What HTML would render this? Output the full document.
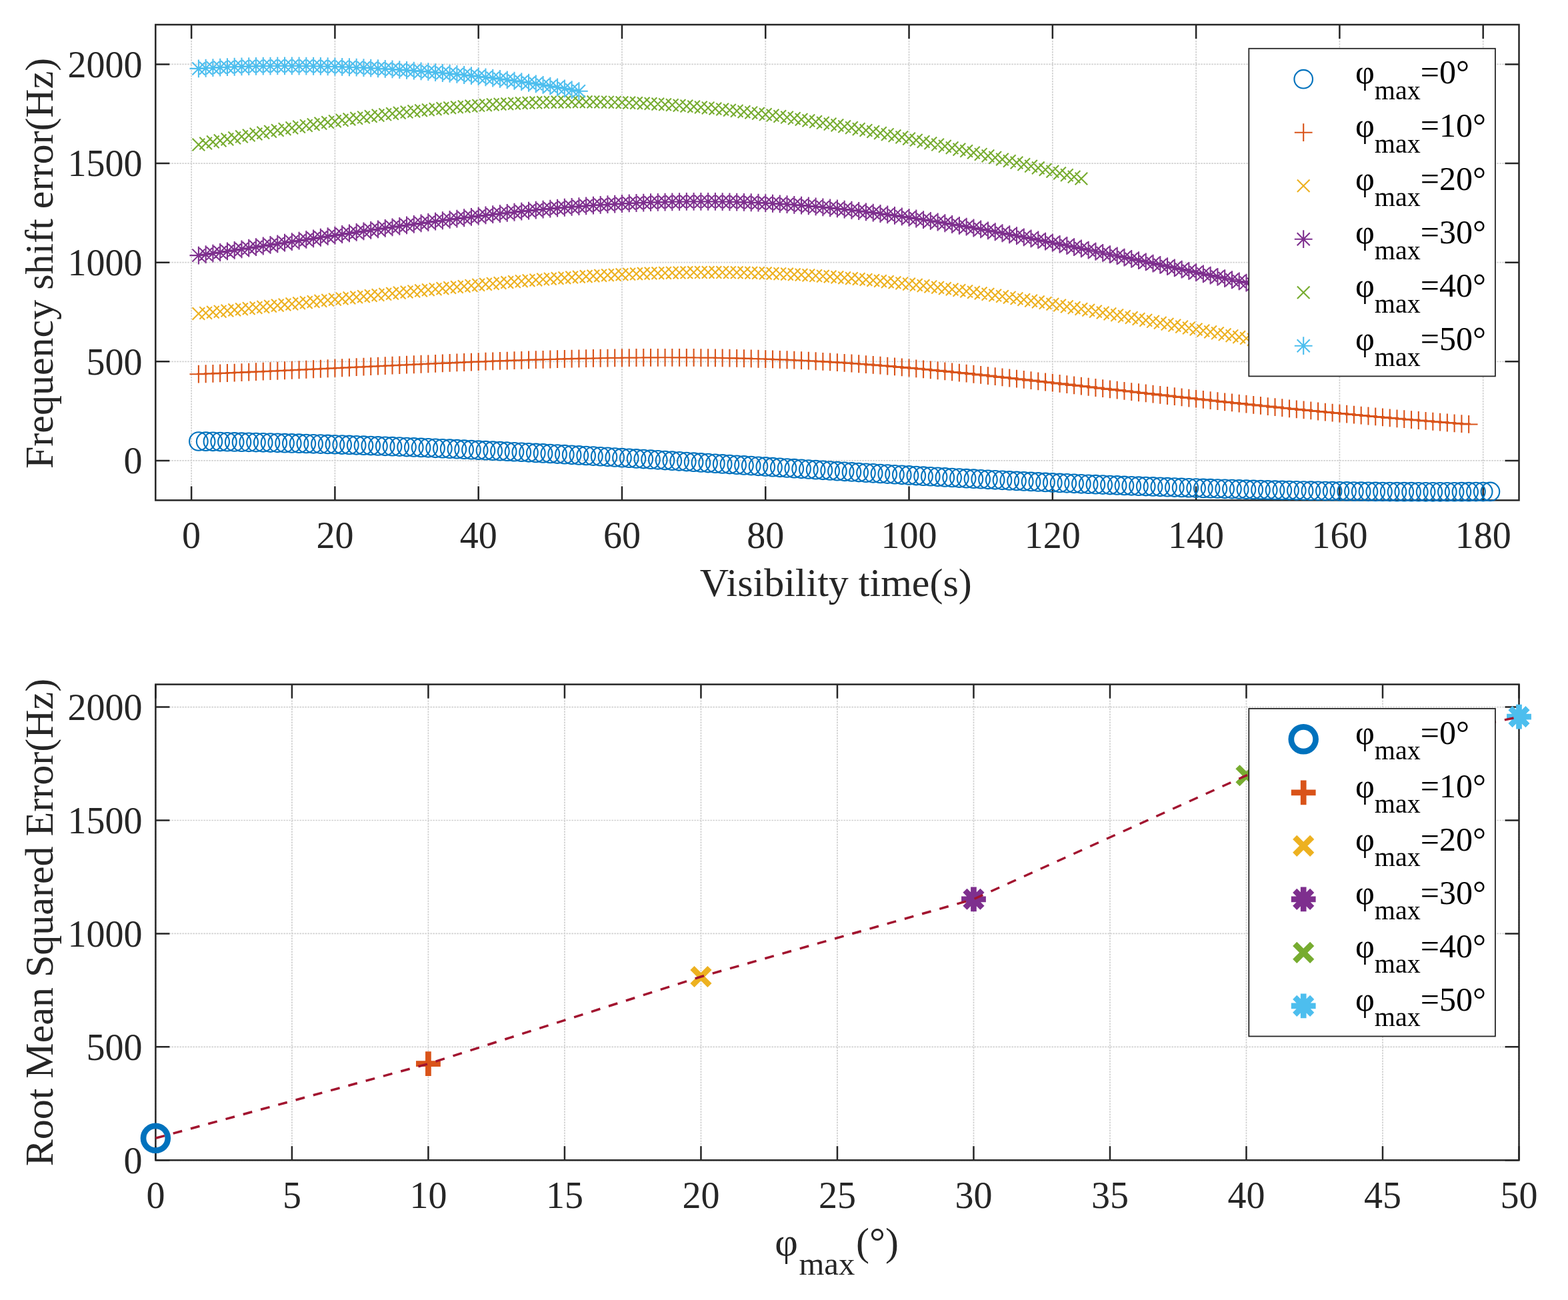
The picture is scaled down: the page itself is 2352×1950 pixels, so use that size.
<!DOCTYPE html><html><head><meta charset="utf-8"><title>Frequency shift error</title><style>html,body{margin:0;padding:0;background:#fff;}svg{display:block;}</style></head><body>
<svg width="2352" height="1950" viewBox="0 0 2352 1950">
<rect width="2352" height="1950" fill="#fff"/>
<path d="M287.12 37V750.4M502.41 37V750.4M717.69 37V750.4M932.97 37V750.4M1148.26 37V750.4M1363.54 37V750.4M1578.83 37V750.4M1794.11 37V750.4M2009.39 37V750.4M2224.68 37V750.4M233.3 690.95H2278.5M233.3 542.33H2278.5M233.3 393.7H2278.5M233.3 245.07H2278.5M233.3 96.45H2278.5" fill="none" stroke="#d0d0d0" stroke-width="1.7" stroke-dasharray="2.5 1.5"/>
<path d="M287.12 750.4v-21M287.12 37v21M502.41 750.4v-21M502.41 37v21M717.69 750.4v-21M717.69 37v21M932.97 750.4v-21M932.97 37v21M1148.26 750.4v-21M1148.26 37v21M1363.54 750.4v-21M1363.54 37v21M1578.83 750.4v-21M1578.83 37v21M1794.11 750.4v-21M1794.11 37v21M2009.39 750.4v-21M2009.39 37v21M2224.68 750.4v-21M2224.68 37v21M233.3 690.95h21M2278.5 690.95h-21M233.3 542.33h21M2278.5 542.33h-21M233.3 393.7h21M2278.5 393.7h-21M233.3 245.07h21M2278.5 245.07h-21M233.3 96.45h21M2278.5 96.45h-21" fill="none" stroke="#262626" stroke-width="2.5"/>
<rect x="233.3" y="37.0" width="2045.2" height="713.4" fill="none" stroke="#262626" stroke-width="2.5"/>
<g fill="none" stroke="#0072BD" stroke-width="2.1"><circle cx="297.89" cy="661.99" r="13.8"/><circle cx="308.65" cy="662.16" r="13.8"/><circle cx="319.41" cy="662.34" r="13.8"/><circle cx="330.18" cy="662.53" r="13.8"/><circle cx="340.94" cy="662.73" r="13.8"/><circle cx="351.71" cy="662.93" r="13.8"/><circle cx="362.47" cy="663.15" r="13.8"/><circle cx="373.23" cy="663.37" r="13.8"/><circle cx="384" cy="663.61" r="13.8"/><circle cx="394.76" cy="663.85" r="13.8"/><circle cx="405.53" cy="664.1" r="13.8"/><circle cx="416.29" cy="664.36" r="13.8"/><circle cx="427.06" cy="664.63" r="13.8"/><circle cx="437.82" cy="664.91" r="13.8"/><circle cx="448.58" cy="665.2" r="13.8"/><circle cx="459.35" cy="665.49" r="13.8"/><circle cx="470.11" cy="665.8" r="13.8"/><circle cx="480.88" cy="666.11" r="13.8"/><circle cx="491.64" cy="666.43" r="13.8"/><circle cx="502.41" cy="666.76" r="13.8"/><circle cx="513.17" cy="667.1" r="13.8"/><circle cx="523.93" cy="667.45" r="13.8"/><circle cx="534.7" cy="667.81" r="13.8"/><circle cx="545.46" cy="668.17" r="13.8"/><circle cx="556.23" cy="668.55" r="13.8"/><circle cx="566.99" cy="668.93" r="13.8"/><circle cx="577.75" cy="669.32" r="13.8"/><circle cx="588.52" cy="669.71" r="13.8"/><circle cx="599.28" cy="670.12" r="13.8"/><circle cx="610.05" cy="670.54" r="13.8"/><circle cx="620.81" cy="670.96" r="13.8"/><circle cx="631.58" cy="671.39" r="13.8"/><circle cx="642.34" cy="671.83" r="13.8"/><circle cx="653.1" cy="672.28" r="13.8"/><circle cx="663.87" cy="672.73" r="13.8"/><circle cx="674.63" cy="673.2" r="13.8"/><circle cx="685.4" cy="673.67" r="13.8"/><circle cx="696.16" cy="674.15" r="13.8"/><circle cx="706.93" cy="674.64" r="13.8"/><circle cx="717.69" cy="675.13" r="13.8"/><circle cx="728.45" cy="675.64" r="13.8"/><circle cx="739.22" cy="676.15" r="13.8"/><circle cx="749.98" cy="676.67" r="13.8"/><circle cx="760.75" cy="677.2" r="13.8"/><circle cx="771.51" cy="677.73" r="13.8"/><circle cx="782.27" cy="678.27" r="13.8"/><circle cx="793.04" cy="678.82" r="13.8"/><circle cx="803.8" cy="679.38" r="13.8"/><circle cx="814.57" cy="679.95" r="13.8"/><circle cx="825.33" cy="680.52" r="13.8"/><circle cx="836.1" cy="681.1" r="13.8"/><circle cx="846.86" cy="681.69" r="13.8"/><circle cx="857.62" cy="682.29" r="13.8"/><circle cx="868.39" cy="682.89" r="13.8"/><circle cx="879.15" cy="683.5" r="13.8"/><circle cx="889.92" cy="684.11" r="13.8"/><circle cx="900.68" cy="684.73" r="13.8"/><circle cx="911.45" cy="685.36" r="13.8"/><circle cx="922.21" cy="685.99" r="13.8"/><circle cx="932.97" cy="686.63" r="13.8"/><circle cx="943.74" cy="687.27" r="13.8"/><circle cx="954.5" cy="687.91" r="13.8"/><circle cx="965.27" cy="688.56" r="13.8"/><circle cx="976.03" cy="689.22" r="13.8"/><circle cx="986.79" cy="689.87" r="13.8"/><circle cx="997.56" cy="690.53" r="13.8"/><circle cx="1008.32" cy="691.2" r="13.8"/><circle cx="1019.09" cy="691.86" r="13.8"/><circle cx="1029.85" cy="692.53" r="13.8"/><circle cx="1040.62" cy="693.2" r="13.8"/><circle cx="1051.38" cy="693.88" r="13.8"/><circle cx="1062.14" cy="694.55" r="13.8"/><circle cx="1072.91" cy="695.23" r="13.8"/><circle cx="1083.67" cy="695.9" r="13.8"/><circle cx="1094.44" cy="696.58" r="13.8"/><circle cx="1105.2" cy="697.26" r="13.8"/><circle cx="1115.97" cy="697.94" r="13.8"/><circle cx="1126.73" cy="698.62" r="13.8"/><circle cx="1137.49" cy="699.29" r="13.8"/><circle cx="1148.26" cy="699.97" r="13.8"/><circle cx="1159.02" cy="700.65" r="13.8"/><circle cx="1169.79" cy="701.32" r="13.8"/><circle cx="1180.55" cy="702" r="13.8"/><circle cx="1191.31" cy="702.67" r="13.8"/><circle cx="1202.08" cy="703.34" r="13.8"/><circle cx="1212.84" cy="704.01" r="13.8"/><circle cx="1223.61" cy="704.67" r="13.8"/><circle cx="1234.37" cy="705.33" r="13.8"/><circle cx="1245.14" cy="705.99" r="13.8"/><circle cx="1255.9" cy="706.65" r="13.8"/><circle cx="1266.66" cy="707.3" r="13.8"/><circle cx="1277.43" cy="707.95" r="13.8"/><circle cx="1288.19" cy="708.59" r="13.8"/><circle cx="1298.96" cy="709.23" r="13.8"/><circle cx="1309.72" cy="709.87" r="13.8"/><circle cx="1320.49" cy="710.5" r="13.8"/><circle cx="1331.25" cy="711.12" r="13.8"/><circle cx="1342.01" cy="711.74" r="13.8"/><circle cx="1352.78" cy="712.35" r="13.8"/><circle cx="1363.54" cy="712.96" r="13.8"/><circle cx="1374.31" cy="713.56" r="13.8"/><circle cx="1385.07" cy="714.16" r="13.8"/><circle cx="1395.83" cy="714.75" r="13.8"/><circle cx="1406.6" cy="715.34" r="13.8"/><circle cx="1417.36" cy="715.92" r="13.8"/><circle cx="1428.13" cy="716.5" r="13.8"/><circle cx="1438.89" cy="717.07" r="13.8"/><circle cx="1449.66" cy="717.63" r="13.8"/><circle cx="1460.42" cy="718.19" r="13.8"/><circle cx="1471.18" cy="718.74" r="13.8"/><circle cx="1481.95" cy="719.29" r="13.8"/><circle cx="1492.71" cy="719.83" r="13.8"/><circle cx="1503.48" cy="720.36" r="13.8"/><circle cx="1514.24" cy="720.89" r="13.8"/><circle cx="1525.01" cy="721.41" r="13.8"/><circle cx="1535.77" cy="721.92" r="13.8"/><circle cx="1546.53" cy="722.43" r="13.8"/><circle cx="1557.3" cy="722.93" r="13.8"/><circle cx="1568.06" cy="723.42" r="13.8"/><circle cx="1578.83" cy="723.91" r="13.8"/><circle cx="1589.59" cy="724.39" r="13.8"/><circle cx="1600.35" cy="724.86" r="13.8"/><circle cx="1611.12" cy="725.32" r="13.8"/><circle cx="1621.88" cy="725.78" r="13.8"/><circle cx="1632.65" cy="726.23" r="13.8"/><circle cx="1643.41" cy="726.68" r="13.8"/><circle cx="1654.18" cy="727.11" r="13.8"/><circle cx="1664.94" cy="727.54" r="13.8"/><circle cx="1675.7" cy="727.96" r="13.8"/><circle cx="1686.47" cy="728.38" r="13.8"/><circle cx="1697.23" cy="728.78" r="13.8"/><circle cx="1708" cy="729.18" r="13.8"/><circle cx="1718.76" cy="729.57" r="13.8"/><circle cx="1729.53" cy="729.95" r="13.8"/><circle cx="1740.29" cy="730.33" r="13.8"/><circle cx="1751.05" cy="730.69" r="13.8"/><circle cx="1761.82" cy="731.05" r="13.8"/><circle cx="1772.58" cy="731.4" r="13.8"/><circle cx="1783.35" cy="731.74" r="13.8"/><circle cx="1794.11" cy="732.07" r="13.8"/><circle cx="1804.87" cy="732.4" r="13.8"/><circle cx="1815.64" cy="732.71" r="13.8"/><circle cx="1826.4" cy="733.02" r="13.8"/><circle cx="1837.17" cy="733.32" r="13.8"/><circle cx="1847.93" cy="733.61" r="13.8"/><circle cx="1858.7" cy="733.89" r="13.8"/><circle cx="1869.46" cy="734.16" r="13.8"/><circle cx="1880.22" cy="734.42" r="13.8"/><circle cx="1890.99" cy="734.67" r="13.8"/><circle cx="1901.75" cy="734.92" r="13.8"/><circle cx="1912.52" cy="735.15" r="13.8"/><circle cx="1923.28" cy="735.38" r="13.8"/><circle cx="1934.05" cy="735.59" r="13.8"/><circle cx="1944.81" cy="735.8" r="13.8"/><circle cx="1955.57" cy="735.99" r="13.8"/><circle cx="1966.34" cy="736.18" r="13.8"/><circle cx="1977.1" cy="736.36" r="13.8"/><circle cx="1987.87" cy="736.52" r="13.8"/><circle cx="1998.63" cy="736.68" r="13.8"/><circle cx="2009.39" cy="736.83" r="13.8"/><circle cx="2020.16" cy="736.96" r="13.8"/><circle cx="2030.92" cy="737.09" r="13.8"/><circle cx="2041.69" cy="737.21" r="13.8"/><circle cx="2052.45" cy="737.31" r="13.8"/><circle cx="2063.22" cy="737.41" r="13.8"/><circle cx="2073.98" cy="737.49" r="13.8"/><circle cx="2084.74" cy="737.57" r="13.8"/><circle cx="2095.51" cy="737.63" r="13.8"/><circle cx="2106.27" cy="737.68" r="13.8"/><circle cx="2117.04" cy="737.72" r="13.8"/><circle cx="2127.8" cy="737.76" r="13.8"/><circle cx="2138.57" cy="737.78" r="13.8"/><circle cx="2149.33" cy="737.78" r="13.8"/><circle cx="2160.09" cy="737.78" r="13.8"/><circle cx="2170.86" cy="737.77" r="13.8"/><circle cx="2181.62" cy="737.74" r="13.8"/><circle cx="2192.39" cy="737.71" r="13.8"/><circle cx="2203.15" cy="737.66" r="13.8"/><circle cx="2213.91" cy="737.6" r="13.8"/><circle cx="2224.68" cy="737.53" r="13.8"/><circle cx="2235.44" cy="737.44" r="13.8"/></g>
<path d="M297.89 561.18m-13.4 0h26.8m-13.4 -13.4v26.8m0 -13.4M308.65 560.77m-13.4 0h26.8m-13.4 -13.4v26.8m0 -13.4M319.41 560.35m-13.4 0h26.8m-13.4 -13.4v26.8m0 -13.4M330.18 559.92m-13.4 0h26.8m-13.4 -13.4v26.8m0 -13.4M340.94 559.49m-13.4 0h26.8m-13.4 -13.4v26.8m0 -13.4M351.71 559.04m-13.4 0h26.8m-13.4 -13.4v26.8m0 -13.4M362.47 558.59m-13.4 0h26.8m-13.4 -13.4v26.8m0 -13.4M373.23 558.13m-13.4 0h26.8m-13.4 -13.4v26.8m0 -13.4M384 557.67m-13.4 0h26.8m-13.4 -13.4v26.8m0 -13.4M394.76 557.19m-13.4 0h26.8m-13.4 -13.4v26.8m0 -13.4M405.53 556.72m-13.4 0h26.8m-13.4 -13.4v26.8m0 -13.4M416.29 556.23m-13.4 0h26.8m-13.4 -13.4v26.8m0 -13.4M427.06 555.75m-13.4 0h26.8m-13.4 -13.4v26.8m0 -13.4M437.82 555.25m-13.4 0h26.8m-13.4 -13.4v26.8m0 -13.4M448.58 554.76m-13.4 0h26.8m-13.4 -13.4v26.8m0 -13.4M459.35 554.26m-13.4 0h26.8m-13.4 -13.4v26.8m0 -13.4M470.11 553.76m-13.4 0h26.8m-13.4 -13.4v26.8m0 -13.4M480.88 553.25m-13.4 0h26.8m-13.4 -13.4v26.8m0 -13.4M491.64 552.75m-13.4 0h26.8m-13.4 -13.4v26.8m0 -13.4M502.41 552.24m-13.4 0h26.8m-13.4 -13.4v26.8m0 -13.4M513.17 551.74m-13.4 0h26.8m-13.4 -13.4v26.8m0 -13.4M523.93 551.23m-13.4 0h26.8m-13.4 -13.4v26.8m0 -13.4M534.7 550.72m-13.4 0h26.8m-13.4 -13.4v26.8m0 -13.4M545.46 550.22m-13.4 0h26.8m-13.4 -13.4v26.8m0 -13.4M556.23 549.71m-13.4 0h26.8m-13.4 -13.4v26.8m0 -13.4M566.99 549.21m-13.4 0h26.8m-13.4 -13.4v26.8m0 -13.4M577.75 548.71m-13.4 0h26.8m-13.4 -13.4v26.8m0 -13.4M588.52 548.21m-13.4 0h26.8m-13.4 -13.4v26.8m0 -13.4M599.28 547.71m-13.4 0h26.8m-13.4 -13.4v26.8m0 -13.4M610.05 547.22m-13.4 0h26.8m-13.4 -13.4v26.8m0 -13.4M620.81 546.74m-13.4 0h26.8m-13.4 -13.4v26.8m0 -13.4M631.58 546.26m-13.4 0h26.8m-13.4 -13.4v26.8m0 -13.4M642.34 545.78m-13.4 0h26.8m-13.4 -13.4v26.8m0 -13.4M653.1 545.31m-13.4 0h26.8m-13.4 -13.4v26.8m0 -13.4M663.87 544.84m-13.4 0h26.8m-13.4 -13.4v26.8m0 -13.4M674.63 544.39m-13.4 0h26.8m-13.4 -13.4v26.8m0 -13.4M685.4 543.94m-13.4 0h26.8m-13.4 -13.4v26.8m0 -13.4M696.16 543.49m-13.4 0h26.8m-13.4 -13.4v26.8m0 -13.4M706.93 543.06m-13.4 0h26.8m-13.4 -13.4v26.8m0 -13.4M717.69 542.63m-13.4 0h26.8m-13.4 -13.4v26.8m0 -13.4M728.45 542.22m-13.4 0h26.8m-13.4 -13.4v26.8m0 -13.4M739.22 541.81m-13.4 0h26.8m-13.4 -13.4v26.8m0 -13.4M749.98 541.42m-13.4 0h26.8m-13.4 -13.4v26.8m0 -13.4M760.75 541.03m-13.4 0h26.8m-13.4 -13.4v26.8m0 -13.4M771.51 540.66m-13.4 0h26.8m-13.4 -13.4v26.8m0 -13.4M782.27 540.3m-13.4 0h26.8m-13.4 -13.4v26.8m0 -13.4M793.04 539.95m-13.4 0h26.8m-13.4 -13.4v26.8m0 -13.4M803.8 539.61m-13.4 0h26.8m-13.4 -13.4v26.8m0 -13.4M814.57 539.29m-13.4 0h26.8m-13.4 -13.4v26.8m0 -13.4M825.33 538.98m-13.4 0h26.8m-13.4 -13.4v26.8m0 -13.4M836.1 538.68m-13.4 0h26.8m-13.4 -13.4v26.8m0 -13.4M846.86 538.4m-13.4 0h26.8m-13.4 -13.4v26.8m0 -13.4M857.62 538.13m-13.4 0h26.8m-13.4 -13.4v26.8m0 -13.4M868.39 537.88m-13.4 0h26.8m-13.4 -13.4v26.8m0 -13.4M879.15 537.65m-13.4 0h26.8m-13.4 -13.4v26.8m0 -13.4M889.92 537.43m-13.4 0h26.8m-13.4 -13.4v26.8m0 -13.4M900.68 537.24m-13.4 0h26.8m-13.4 -13.4v26.8m0 -13.4M911.45 537.05m-13.4 0h26.8m-13.4 -13.4v26.8m0 -13.4M922.21 536.89m-13.4 0h26.8m-13.4 -13.4v26.8m0 -13.4M932.97 536.75m-13.4 0h26.8m-13.4 -13.4v26.8m0 -13.4M943.74 536.62m-13.4 0h26.8m-13.4 -13.4v26.8m0 -13.4M954.5 536.52m-13.4 0h26.8m-13.4 -13.4v26.8m0 -13.4M965.27 536.43m-13.4 0h26.8m-13.4 -13.4v26.8m0 -13.4M976.03 536.37m-13.4 0h26.8m-13.4 -13.4v26.8m0 -13.4M986.79 536.32m-13.4 0h26.8m-13.4 -13.4v26.8m0 -13.4M997.56 536.3m-13.4 0h26.8m-13.4 -13.4v26.8m0 -13.4M1008.32 536.3m-13.4 0h26.8m-13.4 -13.4v26.8m0 -13.4M1019.09 536.33m-13.4 0h26.8m-13.4 -13.4v26.8m0 -13.4M1029.85 536.37m-13.4 0h26.8m-13.4 -13.4v26.8m0 -13.4M1040.62 536.44m-13.4 0h26.8m-13.4 -13.4v26.8m0 -13.4M1051.38 536.54m-13.4 0h26.8m-13.4 -13.4v26.8m0 -13.4M1062.14 536.66m-13.4 0h26.8m-13.4 -13.4v26.8m0 -13.4M1072.91 536.8m-13.4 0h26.8m-13.4 -13.4v26.8m0 -13.4M1083.67 536.97m-13.4 0h26.8m-13.4 -13.4v26.8m0 -13.4M1094.44 537.17m-13.4 0h26.8m-13.4 -13.4v26.8m0 -13.4M1105.2 537.4m-13.4 0h26.8m-13.4 -13.4v26.8m0 -13.4M1115.97 537.65m-13.4 0h26.8m-13.4 -13.4v26.8m0 -13.4M1126.73 537.93m-13.4 0h26.8m-13.4 -13.4v26.8m0 -13.4M1137.49 538.23m-13.4 0h26.8m-13.4 -13.4v26.8m0 -13.4M1148.26 538.57m-13.4 0h26.8m-13.4 -13.4v26.8m0 -13.4M1159.02 538.93m-13.4 0h26.8m-13.4 -13.4v26.8m0 -13.4M1169.79 539.33m-13.4 0h26.8m-13.4 -13.4v26.8m0 -13.4M1180.55 539.75m-13.4 0h26.8m-13.4 -13.4v26.8m0 -13.4M1191.31 540.21m-13.4 0h26.8m-13.4 -13.4v26.8m0 -13.4M1202.08 540.7m-13.4 0h26.8m-13.4 -13.4v26.8m0 -13.4M1212.84 541.21m-13.4 0h26.8m-13.4 -13.4v26.8m0 -13.4M1223.61 541.77m-13.4 0h26.8m-13.4 -13.4v26.8m0 -13.4M1234.37 542.35m-13.4 0h26.8m-13.4 -13.4v26.8m0 -13.4M1245.14 542.97m-13.4 0h26.8m-13.4 -13.4v26.8m0 -13.4M1255.9 543.62m-13.4 0h26.8m-13.4 -13.4v26.8m0 -13.4M1266.66 544.3m-13.4 0h26.8m-13.4 -13.4v26.8m0 -13.4M1277.43 545.02m-13.4 0h26.8m-13.4 -13.4v26.8m0 -13.4M1288.19 545.77m-13.4 0h26.8m-13.4 -13.4v26.8m0 -13.4M1298.96 546.55m-13.4 0h26.8m-13.4 -13.4v26.8m0 -13.4M1309.72 547.36m-13.4 0h26.8m-13.4 -13.4v26.8m0 -13.4M1320.49 548.2m-13.4 0h26.8m-13.4 -13.4v26.8m0 -13.4M1331.25 549.07m-13.4 0h26.8m-13.4 -13.4v26.8m0 -13.4M1342.01 549.96m-13.4 0h26.8m-13.4 -13.4v26.8m0 -13.4M1352.78 550.88m-13.4 0h26.8m-13.4 -13.4v26.8m0 -13.4M1363.54 551.83m-13.4 0h26.8m-13.4 -13.4v26.8m0 -13.4M1374.31 552.8m-13.4 0h26.8m-13.4 -13.4v26.8m0 -13.4M1385.07 553.79m-13.4 0h26.8m-13.4 -13.4v26.8m0 -13.4M1395.83 554.8m-13.4 0h26.8m-13.4 -13.4v26.8m0 -13.4M1406.6 555.83m-13.4 0h26.8m-13.4 -13.4v26.8m0 -13.4M1417.36 556.88m-13.4 0h26.8m-13.4 -13.4v26.8m0 -13.4M1428.13 557.95m-13.4 0h26.8m-13.4 -13.4v26.8m0 -13.4M1438.89 559.04m-13.4 0h26.8m-13.4 -13.4v26.8m0 -13.4M1449.66 560.14m-13.4 0h26.8m-13.4 -13.4v26.8m0 -13.4M1460.42 561.25m-13.4 0h26.8m-13.4 -13.4v26.8m0 -13.4M1471.18 562.38m-13.4 0h26.8m-13.4 -13.4v26.8m0 -13.4M1481.95 563.53m-13.4 0h26.8m-13.4 -13.4v26.8m0 -13.4M1492.71 564.68m-13.4 0h26.8m-13.4 -13.4v26.8m0 -13.4M1503.48 565.85m-13.4 0h26.8m-13.4 -13.4v26.8m0 -13.4M1514.24 567.02m-13.4 0h26.8m-13.4 -13.4v26.8m0 -13.4M1525.01 568.2m-13.4 0h26.8m-13.4 -13.4v26.8m0 -13.4M1535.77 569.39m-13.4 0h26.8m-13.4 -13.4v26.8m0 -13.4M1546.53 570.59m-13.4 0h26.8m-13.4 -13.4v26.8m0 -13.4M1557.3 571.79m-13.4 0h26.8m-13.4 -13.4v26.8m0 -13.4M1568.06 573m-13.4 0h26.8m-13.4 -13.4v26.8m0 -13.4M1578.83 574.21m-13.4 0h26.8m-13.4 -13.4v26.8m0 -13.4M1589.59 575.42m-13.4 0h26.8m-13.4 -13.4v26.8m0 -13.4M1600.35 576.63m-13.4 0h26.8m-13.4 -13.4v26.8m0 -13.4M1611.12 577.84m-13.4 0h26.8m-13.4 -13.4v26.8m0 -13.4M1621.88 579.05m-13.4 0h26.8m-13.4 -13.4v26.8m0 -13.4M1632.65 580.27m-13.4 0h26.8m-13.4 -13.4v26.8m0 -13.4M1643.41 581.48m-13.4 0h26.8m-13.4 -13.4v26.8m0 -13.4M1654.18 582.69m-13.4 0h26.8m-13.4 -13.4v26.8m0 -13.4M1664.94 583.9m-13.4 0h26.8m-13.4 -13.4v26.8m0 -13.4M1675.7 585.12m-13.4 0h26.8m-13.4 -13.4v26.8m0 -13.4M1686.47 586.32m-13.4 0h26.8m-13.4 -13.4v26.8m0 -13.4M1697.23 587.53m-13.4 0h26.8m-13.4 -13.4v26.8m0 -13.4M1708 588.73m-13.4 0h26.8m-13.4 -13.4v26.8m0 -13.4M1718.76 589.93m-13.4 0h26.8m-13.4 -13.4v26.8m0 -13.4M1729.53 591.13m-13.4 0h26.8m-13.4 -13.4v26.8m0 -13.4M1740.29 592.33m-13.4 0h26.8m-13.4 -13.4v26.8m0 -13.4M1751.05 593.52m-13.4 0h26.8m-13.4 -13.4v26.8m0 -13.4M1761.82 594.7m-13.4 0h26.8m-13.4 -13.4v26.8m0 -13.4M1772.58 595.88m-13.4 0h26.8m-13.4 -13.4v26.8m0 -13.4M1783.35 597.05m-13.4 0h26.8m-13.4 -13.4v26.8m0 -13.4M1794.11 598.22m-13.4 0h26.8m-13.4 -13.4v26.8m0 -13.4M1804.87 599.39m-13.4 0h26.8m-13.4 -13.4v26.8m0 -13.4M1815.64 600.54m-13.4 0h26.8m-13.4 -13.4v26.8m0 -13.4M1826.4 601.69m-13.4 0h26.8m-13.4 -13.4v26.8m0 -13.4M1837.17 602.83m-13.4 0h26.8m-13.4 -13.4v26.8m0 -13.4M1847.93 603.97m-13.4 0h26.8m-13.4 -13.4v26.8m0 -13.4M1858.7 605.1m-13.4 0h26.8m-13.4 -13.4v26.8m0 -13.4M1869.46 606.22m-13.4 0h26.8m-13.4 -13.4v26.8m0 -13.4M1880.22 607.33m-13.4 0h26.8m-13.4 -13.4v26.8m0 -13.4M1890.99 608.44m-13.4 0h26.8m-13.4 -13.4v26.8m0 -13.4M1901.75 609.54m-13.4 0h26.8m-13.4 -13.4v26.8m0 -13.4M1912.52 610.63m-13.4 0h26.8m-13.4 -13.4v26.8m0 -13.4M1923.28 611.71m-13.4 0h26.8m-13.4 -13.4v26.8m0 -13.4M1934.05 612.79m-13.4 0h26.8m-13.4 -13.4v26.8m0 -13.4M1944.81 613.85m-13.4 0h26.8m-13.4 -13.4v26.8m0 -13.4M1955.57 614.91m-13.4 0h26.8m-13.4 -13.4v26.8m0 -13.4M1966.34 615.96m-13.4 0h26.8m-13.4 -13.4v26.8m0 -13.4M1977.1 617m-13.4 0h26.8m-13.4 -13.4v26.8m0 -13.4M1987.87 618.03m-13.4 0h26.8m-13.4 -13.4v26.8m0 -13.4M1998.63 619.05m-13.4 0h26.8m-13.4 -13.4v26.8m0 -13.4M2009.39 620.06m-13.4 0h26.8m-13.4 -13.4v26.8m0 -13.4M2020.16 621.06m-13.4 0h26.8m-13.4 -13.4v26.8m0 -13.4M2030.92 622.05m-13.4 0h26.8m-13.4 -13.4v26.8m0 -13.4M2041.69 623.03m-13.4 0h26.8m-13.4 -13.4v26.8m0 -13.4M2052.45 624.01m-13.4 0h26.8m-13.4 -13.4v26.8m0 -13.4M2063.22 624.97m-13.4 0h26.8m-13.4 -13.4v26.8m0 -13.4M2073.98 625.92m-13.4 0h26.8m-13.4 -13.4v26.8m0 -13.4M2084.74 626.86m-13.4 0h26.8m-13.4 -13.4v26.8m0 -13.4M2095.51 627.79m-13.4 0h26.8m-13.4 -13.4v26.8m0 -13.4M2106.27 628.71m-13.4 0h26.8m-13.4 -13.4v26.8m0 -13.4M2117.04 629.61m-13.4 0h26.8m-13.4 -13.4v26.8m0 -13.4M2127.8 630.51m-13.4 0h26.8m-13.4 -13.4v26.8m0 -13.4M2138.57 631.39m-13.4 0h26.8m-13.4 -13.4v26.8m0 -13.4M2149.33 632.27m-13.4 0h26.8m-13.4 -13.4v26.8m0 -13.4M2160.09 633.13m-13.4 0h26.8m-13.4 -13.4v26.8m0 -13.4M2170.86 633.98m-13.4 0h26.8m-13.4 -13.4v26.8m0 -13.4M2181.62 634.81m-13.4 0h26.8m-13.4 -13.4v26.8m0 -13.4M2192.39 635.64m-13.4 0h26.8m-13.4 -13.4v26.8m0 -13.4M2203.15 636.45m-13.4 0h26.8m-13.4 -13.4v26.8m0 -13.4" fill="none" stroke="#D95319" stroke-width="2.1"/>
<path d="M297.89 470.55m-9.3 -9.3l18.6 18.6m0 -18.6l-18.6 18.6m9.3 -9.3M308.65 469.42m-9.3 -9.3l18.6 18.6m0 -18.6l-18.6 18.6m9.3 -9.3M319.41 468.3m-9.3 -9.3l18.6 18.6m0 -18.6l-18.6 18.6m9.3 -9.3M330.18 467.17m-9.3 -9.3l18.6 18.6m0 -18.6l-18.6 18.6m9.3 -9.3M340.94 466.04m-9.3 -9.3l18.6 18.6m0 -18.6l-18.6 18.6m9.3 -9.3M351.71 464.91m-9.3 -9.3l18.6 18.6m0 -18.6l-18.6 18.6m9.3 -9.3M362.47 463.78m-9.3 -9.3l18.6 18.6m0 -18.6l-18.6 18.6m9.3 -9.3M373.23 462.65m-9.3 -9.3l18.6 18.6m0 -18.6l-18.6 18.6m9.3 -9.3M384 461.52m-9.3 -9.3l18.6 18.6m0 -18.6l-18.6 18.6m9.3 -9.3M394.76 460.39m-9.3 -9.3l18.6 18.6m0 -18.6l-18.6 18.6m9.3 -9.3M405.53 459.26m-9.3 -9.3l18.6 18.6m0 -18.6l-18.6 18.6m9.3 -9.3M416.29 458.13m-9.3 -9.3l18.6 18.6m0 -18.6l-18.6 18.6m9.3 -9.3M427.06 457m-9.3 -9.3l18.6 18.6m0 -18.6l-18.6 18.6m9.3 -9.3M437.82 455.87m-9.3 -9.3l18.6 18.6m0 -18.6l-18.6 18.6m9.3 -9.3M448.58 454.75m-9.3 -9.3l18.6 18.6m0 -18.6l-18.6 18.6m9.3 -9.3M459.35 453.62m-9.3 -9.3l18.6 18.6m0 -18.6l-18.6 18.6m9.3 -9.3M470.11 452.49m-9.3 -9.3l18.6 18.6m0 -18.6l-18.6 18.6m9.3 -9.3M480.88 451.37m-9.3 -9.3l18.6 18.6m0 -18.6l-18.6 18.6m9.3 -9.3M491.64 450.25m-9.3 -9.3l18.6 18.6m0 -18.6l-18.6 18.6m9.3 -9.3M502.41 449.13m-9.3 -9.3l18.6 18.6m0 -18.6l-18.6 18.6m9.3 -9.3M513.17 448.01m-9.3 -9.3l18.6 18.6m0 -18.6l-18.6 18.6m9.3 -9.3M523.93 446.89m-9.3 -9.3l18.6 18.6m0 -18.6l-18.6 18.6m9.3 -9.3M534.7 445.77m-9.3 -9.3l18.6 18.6m0 -18.6l-18.6 18.6m9.3 -9.3M545.46 444.66m-9.3 -9.3l18.6 18.6m0 -18.6l-18.6 18.6m9.3 -9.3M556.23 443.55m-9.3 -9.3l18.6 18.6m0 -18.6l-18.6 18.6m9.3 -9.3M566.99 442.44m-9.3 -9.3l18.6 18.6m0 -18.6l-18.6 18.6m9.3 -9.3M577.75 441.33m-9.3 -9.3l18.6 18.6m0 -18.6l-18.6 18.6m9.3 -9.3M588.52 440.23m-9.3 -9.3l18.6 18.6m0 -18.6l-18.6 18.6m9.3 -9.3M599.28 439.13m-9.3 -9.3l18.6 18.6m0 -18.6l-18.6 18.6m9.3 -9.3M610.05 438.03m-9.3 -9.3l18.6 18.6m0 -18.6l-18.6 18.6m9.3 -9.3M620.81 436.93m-9.3 -9.3l18.6 18.6m0 -18.6l-18.6 18.6m9.3 -9.3M631.58 435.84m-9.3 -9.3l18.6 18.6m0 -18.6l-18.6 18.6m9.3 -9.3M642.34 434.76m-9.3 -9.3l18.6 18.6m0 -18.6l-18.6 18.6m9.3 -9.3M653.1 433.68m-9.3 -9.3l18.6 18.6m0 -18.6l-18.6 18.6m9.3 -9.3M663.87 432.61m-9.3 -9.3l18.6 18.6m0 -18.6l-18.6 18.6m9.3 -9.3M674.63 431.54m-9.3 -9.3l18.6 18.6m0 -18.6l-18.6 18.6m9.3 -9.3M685.4 430.49m-9.3 -9.3l18.6 18.6m0 -18.6l-18.6 18.6m9.3 -9.3M696.16 429.45m-9.3 -9.3l18.6 18.6m0 -18.6l-18.6 18.6m9.3 -9.3M706.93 428.42m-9.3 -9.3l18.6 18.6m0 -18.6l-18.6 18.6m9.3 -9.3M717.69 427.41m-9.3 -9.3l18.6 18.6m0 -18.6l-18.6 18.6m9.3 -9.3M728.45 426.41m-9.3 -9.3l18.6 18.6m0 -18.6l-18.6 18.6m9.3 -9.3M739.22 425.42m-9.3 -9.3l18.6 18.6m0 -18.6l-18.6 18.6m9.3 -9.3M749.98 424.45m-9.3 -9.3l18.6 18.6m0 -18.6l-18.6 18.6m9.3 -9.3M760.75 423.51m-9.3 -9.3l18.6 18.6m0 -18.6l-18.6 18.6m9.3 -9.3M771.51 422.58m-9.3 -9.3l18.6 18.6m0 -18.6l-18.6 18.6m9.3 -9.3M782.27 421.67m-9.3 -9.3l18.6 18.6m0 -18.6l-18.6 18.6m9.3 -9.3M793.04 420.78m-9.3 -9.3l18.6 18.6m0 -18.6l-18.6 18.6m9.3 -9.3M803.8 419.92m-9.3 -9.3l18.6 18.6m0 -18.6l-18.6 18.6m9.3 -9.3M814.57 419.08m-9.3 -9.3l18.6 18.6m0 -18.6l-18.6 18.6m9.3 -9.3M825.33 418.27m-9.3 -9.3l18.6 18.6m0 -18.6l-18.6 18.6m9.3 -9.3M836.1 417.48m-9.3 -9.3l18.6 18.6m0 -18.6l-18.6 18.6m9.3 -9.3M846.86 416.72m-9.3 -9.3l18.6 18.6m0 -18.6l-18.6 18.6m9.3 -9.3M857.62 415.99m-9.3 -9.3l18.6 18.6m0 -18.6l-18.6 18.6m9.3 -9.3M868.39 415.29m-9.3 -9.3l18.6 18.6m0 -18.6l-18.6 18.6m9.3 -9.3M879.15 414.61m-9.3 -9.3l18.6 18.6m0 -18.6l-18.6 18.6m9.3 -9.3M889.92 413.97m-9.3 -9.3l18.6 18.6m0 -18.6l-18.6 18.6m9.3 -9.3M900.68 413.36m-9.3 -9.3l18.6 18.6m0 -18.6l-18.6 18.6m9.3 -9.3M911.45 412.78m-9.3 -9.3l18.6 18.6m0 -18.6l-18.6 18.6m9.3 -9.3M922.21 412.24m-9.3 -9.3l18.6 18.6m0 -18.6l-18.6 18.6m9.3 -9.3M932.97 411.73m-9.3 -9.3l18.6 18.6m0 -18.6l-18.6 18.6m9.3 -9.3M943.74 411.25m-9.3 -9.3l18.6 18.6m0 -18.6l-18.6 18.6m9.3 -9.3M954.5 410.81m-9.3 -9.3l18.6 18.6m0 -18.6l-18.6 18.6m9.3 -9.3M965.27 410.41m-9.3 -9.3l18.6 18.6m0 -18.6l-18.6 18.6m9.3 -9.3M976.03 410.04m-9.3 -9.3l18.6 18.6m0 -18.6l-18.6 18.6m9.3 -9.3M986.79 409.71m-9.3 -9.3l18.6 18.6m0 -18.6l-18.6 18.6m9.3 -9.3M997.56 409.42m-9.3 -9.3l18.6 18.6m0 -18.6l-18.6 18.6m9.3 -9.3M1008.32 409.17m-9.3 -9.3l18.6 18.6m0 -18.6l-18.6 18.6m9.3 -9.3M1019.09 408.96m-9.3 -9.3l18.6 18.6m0 -18.6l-18.6 18.6m9.3 -9.3M1029.85 408.79m-9.3 -9.3l18.6 18.6m0 -18.6l-18.6 18.6m9.3 -9.3M1040.62 408.66m-9.3 -9.3l18.6 18.6m0 -18.6l-18.6 18.6m9.3 -9.3M1051.38 408.57m-9.3 -9.3l18.6 18.6m0 -18.6l-18.6 18.6m9.3 -9.3M1062.14 408.53m-9.3 -9.3l18.6 18.6m0 -18.6l-18.6 18.6m9.3 -9.3M1072.91 408.53m-9.3 -9.3l18.6 18.6m0 -18.6l-18.6 18.6m9.3 -9.3M1083.67 408.58m-9.3 -9.3l18.6 18.6m0 -18.6l-18.6 18.6m9.3 -9.3M1094.44 408.67m-9.3 -9.3l18.6 18.6m0 -18.6l-18.6 18.6m9.3 -9.3M1105.2 408.81m-9.3 -9.3l18.6 18.6m0 -18.6l-18.6 18.6m9.3 -9.3M1115.97 409m-9.3 -9.3l18.6 18.6m0 -18.6l-18.6 18.6m9.3 -9.3M1126.73 409.24m-9.3 -9.3l18.6 18.6m0 -18.6l-18.6 18.6m9.3 -9.3M1137.49 409.52m-9.3 -9.3l18.6 18.6m0 -18.6l-18.6 18.6m9.3 -9.3M1148.26 409.86m-9.3 -9.3l18.6 18.6m0 -18.6l-18.6 18.6m9.3 -9.3M1159.02 410.24m-9.3 -9.3l18.6 18.6m0 -18.6l-18.6 18.6m9.3 -9.3M1169.79 410.68m-9.3 -9.3l18.6 18.6m0 -18.6l-18.6 18.6m9.3 -9.3M1180.55 411.16m-9.3 -9.3l18.6 18.6m0 -18.6l-18.6 18.6m9.3 -9.3M1191.31 411.69m-9.3 -9.3l18.6 18.6m0 -18.6l-18.6 18.6m9.3 -9.3M1202.08 412.27m-9.3 -9.3l18.6 18.6m0 -18.6l-18.6 18.6m9.3 -9.3M1212.84 412.9m-9.3 -9.3l18.6 18.6m0 -18.6l-18.6 18.6m9.3 -9.3M1223.61 413.57m-9.3 -9.3l18.6 18.6m0 -18.6l-18.6 18.6m9.3 -9.3M1234.37 414.29m-9.3 -9.3l18.6 18.6m0 -18.6l-18.6 18.6m9.3 -9.3M1245.14 415.05m-9.3 -9.3l18.6 18.6m0 -18.6l-18.6 18.6m9.3 -9.3M1255.9 415.86m-9.3 -9.3l18.6 18.6m0 -18.6l-18.6 18.6m9.3 -9.3M1266.66 416.71m-9.3 -9.3l18.6 18.6m0 -18.6l-18.6 18.6m9.3 -9.3M1277.43 417.6m-9.3 -9.3l18.6 18.6m0 -18.6l-18.6 18.6m9.3 -9.3M1288.19 418.53m-9.3 -9.3l18.6 18.6m0 -18.6l-18.6 18.6m9.3 -9.3M1298.96 419.5m-9.3 -9.3l18.6 18.6m0 -18.6l-18.6 18.6m9.3 -9.3M1309.72 420.51m-9.3 -9.3l18.6 18.6m0 -18.6l-18.6 18.6m9.3 -9.3M1320.49 421.56m-9.3 -9.3l18.6 18.6m0 -18.6l-18.6 18.6m9.3 -9.3M1331.25 422.65m-9.3 -9.3l18.6 18.6m0 -18.6l-18.6 18.6m9.3 -9.3M1342.01 423.77m-9.3 -9.3l18.6 18.6m0 -18.6l-18.6 18.6m9.3 -9.3M1352.78 424.93m-9.3 -9.3l18.6 18.6m0 -18.6l-18.6 18.6m9.3 -9.3M1363.54 426.13m-9.3 -9.3l18.6 18.6m0 -18.6l-18.6 18.6m9.3 -9.3M1374.31 427.36m-9.3 -9.3l18.6 18.6m0 -18.6l-18.6 18.6m9.3 -9.3M1385.07 428.63m-9.3 -9.3l18.6 18.6m0 -18.6l-18.6 18.6m9.3 -9.3M1395.83 429.93m-9.3 -9.3l18.6 18.6m0 -18.6l-18.6 18.6m9.3 -9.3M1406.6 431.26m-9.3 -9.3l18.6 18.6m0 -18.6l-18.6 18.6m9.3 -9.3M1417.36 432.62m-9.3 -9.3l18.6 18.6m0 -18.6l-18.6 18.6m9.3 -9.3M1428.13 434.01m-9.3 -9.3l18.6 18.6m0 -18.6l-18.6 18.6m9.3 -9.3M1438.89 435.44m-9.3 -9.3l18.6 18.6m0 -18.6l-18.6 18.6m9.3 -9.3M1449.66 436.89m-9.3 -9.3l18.6 18.6m0 -18.6l-18.6 18.6m9.3 -9.3M1460.42 438.37m-9.3 -9.3l18.6 18.6m0 -18.6l-18.6 18.6m9.3 -9.3M1471.18 439.88m-9.3 -9.3l18.6 18.6m0 -18.6l-18.6 18.6m9.3 -9.3M1481.95 441.41m-9.3 -9.3l18.6 18.6m0 -18.6l-18.6 18.6m9.3 -9.3M1492.71 442.97m-9.3 -9.3l18.6 18.6m0 -18.6l-18.6 18.6m9.3 -9.3M1503.48 444.56m-9.3 -9.3l18.6 18.6m0 -18.6l-18.6 18.6m9.3 -9.3M1514.24 446.17m-9.3 -9.3l18.6 18.6m0 -18.6l-18.6 18.6m9.3 -9.3M1525.01 447.8m-9.3 -9.3l18.6 18.6m0 -18.6l-18.6 18.6m9.3 -9.3M1535.77 449.46m-9.3 -9.3l18.6 18.6m0 -18.6l-18.6 18.6m9.3 -9.3M1546.53 451.14m-9.3 -9.3l18.6 18.6m0 -18.6l-18.6 18.6m9.3 -9.3M1557.3 452.84m-9.3 -9.3l18.6 18.6m0 -18.6l-18.6 18.6m9.3 -9.3M1568.06 454.56m-9.3 -9.3l18.6 18.6m0 -18.6l-18.6 18.6m9.3 -9.3M1578.83 456.3m-9.3 -9.3l18.6 18.6m0 -18.6l-18.6 18.6m9.3 -9.3M1589.59 458.06m-9.3 -9.3l18.6 18.6m0 -18.6l-18.6 18.6m9.3 -9.3M1600.35 459.84m-9.3 -9.3l18.6 18.6m0 -18.6l-18.6 18.6m9.3 -9.3M1611.12 461.64m-9.3 -9.3l18.6 18.6m0 -18.6l-18.6 18.6m9.3 -9.3M1621.88 463.45m-9.3 -9.3l18.6 18.6m0 -18.6l-18.6 18.6m9.3 -9.3M1632.65 465.28m-9.3 -9.3l18.6 18.6m0 -18.6l-18.6 18.6m9.3 -9.3M1643.41 467.12m-9.3 -9.3l18.6 18.6m0 -18.6l-18.6 18.6m9.3 -9.3M1654.18 468.98m-9.3 -9.3l18.6 18.6m0 -18.6l-18.6 18.6m9.3 -9.3M1664.94 470.85m-9.3 -9.3l18.6 18.6m0 -18.6l-18.6 18.6m9.3 -9.3M1675.7 472.74m-9.3 -9.3l18.6 18.6m0 -18.6l-18.6 18.6m9.3 -9.3M1686.47 474.63m-9.3 -9.3l18.6 18.6m0 -18.6l-18.6 18.6m9.3 -9.3M1697.23 476.54m-9.3 -9.3l18.6 18.6m0 -18.6l-18.6 18.6m9.3 -9.3M1708 478.46m-9.3 -9.3l18.6 18.6m0 -18.6l-18.6 18.6m9.3 -9.3M1718.76 480.39m-9.3 -9.3l18.6 18.6m0 -18.6l-18.6 18.6m9.3 -9.3M1729.53 482.32m-9.3 -9.3l18.6 18.6m0 -18.6l-18.6 18.6m9.3 -9.3M1740.29 484.26m-9.3 -9.3l18.6 18.6m0 -18.6l-18.6 18.6m9.3 -9.3M1751.05 486.2m-9.3 -9.3l18.6 18.6m0 -18.6l-18.6 18.6m9.3 -9.3M1761.82 488.15m-9.3 -9.3l18.6 18.6m0 -18.6l-18.6 18.6m9.3 -9.3M1772.58 490.1m-9.3 -9.3l18.6 18.6m0 -18.6l-18.6 18.6m9.3 -9.3M1783.35 492.05m-9.3 -9.3l18.6 18.6m0 -18.6l-18.6 18.6m9.3 -9.3M1794.11 494m-9.3 -9.3l18.6 18.6m0 -18.6l-18.6 18.6m9.3 -9.3M1804.87 495.95m-9.3 -9.3l18.6 18.6m0 -18.6l-18.6 18.6m9.3 -9.3M1815.64 497.89m-9.3 -9.3l18.6 18.6m0 -18.6l-18.6 18.6m9.3 -9.3M1826.4 499.83m-9.3 -9.3l18.6 18.6m0 -18.6l-18.6 18.6m9.3 -9.3M1837.17 501.76m-9.3 -9.3l18.6 18.6m0 -18.6l-18.6 18.6m9.3 -9.3M1847.93 503.68m-9.3 -9.3l18.6 18.6m0 -18.6l-18.6 18.6m9.3 -9.3M1858.7 505.6m-9.3 -9.3l18.6 18.6m0 -18.6l-18.6 18.6m9.3 -9.3M1869.46 507.5m-9.3 -9.3l18.6 18.6m0 -18.6l-18.6 18.6m9.3 -9.3M1880.22 509.39m-9.3 -9.3l18.6 18.6m0 -18.6l-18.6 18.6m9.3 -9.3M1890.99 511.27m-9.3 -9.3l18.6 18.6m0 -18.6l-18.6 18.6m9.3 -9.3M1901.75 513.14m-9.3 -9.3l18.6 18.6m0 -18.6l-18.6 18.6m9.3 -9.3M1912.52 514.99m-9.3 -9.3l18.6 18.6m0 -18.6l-18.6 18.6m9.3 -9.3M1923.28 516.82m-9.3 -9.3l18.6 18.6m0 -18.6l-18.6 18.6m9.3 -9.3M1934.05 518.63m-9.3 -9.3l18.6 18.6m0 -18.6l-18.6 18.6m9.3 -9.3M1944.81 520.42m-9.3 -9.3l18.6 18.6m0 -18.6l-18.6 18.6m9.3 -9.3M1955.57 522.19m-9.3 -9.3l18.6 18.6m0 -18.6l-18.6 18.6m9.3 -9.3M1966.34 523.94m-9.3 -9.3l18.6 18.6m0 -18.6l-18.6 18.6m9.3 -9.3M1977.1 525.66m-9.3 -9.3l18.6 18.6m0 -18.6l-18.6 18.6m9.3 -9.3M1987.87 527.36m-9.3 -9.3l18.6 18.6m0 -18.6l-18.6 18.6m9.3 -9.3M1998.63 529.03m-9.3 -9.3l18.6 18.6m0 -18.6l-18.6 18.6m9.3 -9.3M2009.39 530.67m-9.3 -9.3l18.6 18.6m0 -18.6l-18.6 18.6m9.3 -9.3M2020.16 532.29m-9.3 -9.3l18.6 18.6m0 -18.6l-18.6 18.6m9.3 -9.3M2030.92 533.87m-9.3 -9.3l18.6 18.6m0 -18.6l-18.6 18.6m9.3 -9.3M2041.69 535.42m-9.3 -9.3l18.6 18.6m0 -18.6l-18.6 18.6m9.3 -9.3M2052.45 536.94m-9.3 -9.3l18.6 18.6m0 -18.6l-18.6 18.6m9.3 -9.3M2063.22 538.42m-9.3 -9.3l18.6 18.6m0 -18.6l-18.6 18.6m9.3 -9.3M2073.98 539.86m-9.3 -9.3l18.6 18.6m0 -18.6l-18.6 18.6m9.3 -9.3M2084.74 541.27m-9.3 -9.3l18.6 18.6m0 -18.6l-18.6 18.6m9.3 -9.3M2095.51 542.63m-9.3 -9.3l18.6 18.6m0 -18.6l-18.6 18.6m9.3 -9.3" fill="none" stroke="#EDB120" stroke-width="2.1"/>
<path d="M297.89 383.13m-13.4 0h26.8m-13.4 -13.4v26.8m0 -13.4m-9.5 -9.5l19 19m0 -19l-19 19m9.5 -9.5M308.65 381.6m-13.4 0h26.8m-13.4 -13.4v26.8m0 -13.4m-9.5 -9.5l19 19m0 -19l-19 19m9.5 -9.5M319.41 380.05m-13.4 0h26.8m-13.4 -13.4v26.8m0 -13.4m-9.5 -9.5l19 19m0 -19l-19 19m9.5 -9.5M330.18 378.49m-13.4 0h26.8m-13.4 -13.4v26.8m0 -13.4m-9.5 -9.5l19 19m0 -19l-19 19m9.5 -9.5M340.94 376.93m-13.4 0h26.8m-13.4 -13.4v26.8m0 -13.4m-9.5 -9.5l19 19m0 -19l-19 19m9.5 -9.5M351.71 375.36m-13.4 0h26.8m-13.4 -13.4v26.8m0 -13.4m-9.5 -9.5l19 19m0 -19l-19 19m9.5 -9.5M362.47 373.78m-13.4 0h26.8m-13.4 -13.4v26.8m0 -13.4m-9.5 -9.5l19 19m0 -19l-19 19m9.5 -9.5M373.23 372.2m-13.4 0h26.8m-13.4 -13.4v26.8m0 -13.4m-9.5 -9.5l19 19m0 -19l-19 19m9.5 -9.5M384 370.61m-13.4 0h26.8m-13.4 -13.4v26.8m0 -13.4m-9.5 -9.5l19 19m0 -19l-19 19m9.5 -9.5M394.76 369.01m-13.4 0h26.8m-13.4 -13.4v26.8m0 -13.4m-9.5 -9.5l19 19m0 -19l-19 19m9.5 -9.5M405.53 367.42m-13.4 0h26.8m-13.4 -13.4v26.8m0 -13.4m-9.5 -9.5l19 19m0 -19l-19 19m9.5 -9.5M416.29 365.82m-13.4 0h26.8m-13.4 -13.4v26.8m0 -13.4m-9.5 -9.5l19 19m0 -19l-19 19m9.5 -9.5M427.06 364.22m-13.4 0h26.8m-13.4 -13.4v26.8m0 -13.4m-9.5 -9.5l19 19m0 -19l-19 19m9.5 -9.5M437.82 362.63m-13.4 0h26.8m-13.4 -13.4v26.8m0 -13.4m-9.5 -9.5l19 19m0 -19l-19 19m9.5 -9.5M448.58 361.03m-13.4 0h26.8m-13.4 -13.4v26.8m0 -13.4m-9.5 -9.5l19 19m0 -19l-19 19m9.5 -9.5M459.35 359.43m-13.4 0h26.8m-13.4 -13.4v26.8m0 -13.4m-9.5 -9.5l19 19m0 -19l-19 19m9.5 -9.5M470.11 357.84m-13.4 0h26.8m-13.4 -13.4v26.8m0 -13.4m-9.5 -9.5l19 19m0 -19l-19 19m9.5 -9.5M480.88 356.25m-13.4 0h26.8m-13.4 -13.4v26.8m0 -13.4m-9.5 -9.5l19 19m0 -19l-19 19m9.5 -9.5M491.64 354.67m-13.4 0h26.8m-13.4 -13.4v26.8m0 -13.4m-9.5 -9.5l19 19m0 -19l-19 19m9.5 -9.5M502.41 353.09m-13.4 0h26.8m-13.4 -13.4v26.8m0 -13.4m-9.5 -9.5l19 19m0 -19l-19 19m9.5 -9.5M513.17 351.52m-13.4 0h26.8m-13.4 -13.4v26.8m0 -13.4m-9.5 -9.5l19 19m0 -19l-19 19m9.5 -9.5M523.93 349.95m-13.4 0h26.8m-13.4 -13.4v26.8m0 -13.4m-9.5 -9.5l19 19m0 -19l-19 19m9.5 -9.5M534.7 348.4m-13.4 0h26.8m-13.4 -13.4v26.8m0 -13.4m-9.5 -9.5l19 19m0 -19l-19 19m9.5 -9.5M545.46 346.85m-13.4 0h26.8m-13.4 -13.4v26.8m0 -13.4m-9.5 -9.5l19 19m0 -19l-19 19m9.5 -9.5M556.23 345.31m-13.4 0h26.8m-13.4 -13.4v26.8m0 -13.4m-9.5 -9.5l19 19m0 -19l-19 19m9.5 -9.5M566.99 343.79m-13.4 0h26.8m-13.4 -13.4v26.8m0 -13.4m-9.5 -9.5l19 19m0 -19l-19 19m9.5 -9.5M577.75 342.28m-13.4 0h26.8m-13.4 -13.4v26.8m0 -13.4m-9.5 -9.5l19 19m0 -19l-19 19m9.5 -9.5M588.52 340.78m-13.4 0h26.8m-13.4 -13.4v26.8m0 -13.4m-9.5 -9.5l19 19m0 -19l-19 19m9.5 -9.5M599.28 339.29m-13.4 0h26.8m-13.4 -13.4v26.8m0 -13.4m-9.5 -9.5l19 19m0 -19l-19 19m9.5 -9.5M610.05 337.82m-13.4 0h26.8m-13.4 -13.4v26.8m0 -13.4m-9.5 -9.5l19 19m0 -19l-19 19m9.5 -9.5M620.81 336.37m-13.4 0h26.8m-13.4 -13.4v26.8m0 -13.4m-9.5 -9.5l19 19m0 -19l-19 19m9.5 -9.5M631.58 334.94m-13.4 0h26.8m-13.4 -13.4v26.8m0 -13.4m-9.5 -9.5l19 19m0 -19l-19 19m9.5 -9.5M642.34 333.52m-13.4 0h26.8m-13.4 -13.4v26.8m0 -13.4m-9.5 -9.5l19 19m0 -19l-19 19m9.5 -9.5M653.1 332.12m-13.4 0h26.8m-13.4 -13.4v26.8m0 -13.4m-9.5 -9.5l19 19m0 -19l-19 19m9.5 -9.5M663.87 330.74m-13.4 0h26.8m-13.4 -13.4v26.8m0 -13.4m-9.5 -9.5l19 19m0 -19l-19 19m9.5 -9.5M674.63 329.38m-13.4 0h26.8m-13.4 -13.4v26.8m0 -13.4m-9.5 -9.5l19 19m0 -19l-19 19m9.5 -9.5M685.4 328.04m-13.4 0h26.8m-13.4 -13.4v26.8m0 -13.4m-9.5 -9.5l19 19m0 -19l-19 19m9.5 -9.5M696.16 326.73m-13.4 0h26.8m-13.4 -13.4v26.8m0 -13.4m-9.5 -9.5l19 19m0 -19l-19 19m9.5 -9.5M706.93 325.44m-13.4 0h26.8m-13.4 -13.4v26.8m0 -13.4m-9.5 -9.5l19 19m0 -19l-19 19m9.5 -9.5M717.69 324.17m-13.4 0h26.8m-13.4 -13.4v26.8m0 -13.4m-9.5 -9.5l19 19m0 -19l-19 19m9.5 -9.5M728.45 322.93m-13.4 0h26.8m-13.4 -13.4v26.8m0 -13.4m-9.5 -9.5l19 19m0 -19l-19 19m9.5 -9.5M739.22 321.72m-13.4 0h26.8m-13.4 -13.4v26.8m0 -13.4m-9.5 -9.5l19 19m0 -19l-19 19m9.5 -9.5M749.98 320.53m-13.4 0h26.8m-13.4 -13.4v26.8m0 -13.4m-9.5 -9.5l19 19m0 -19l-19 19m9.5 -9.5M760.75 319.38m-13.4 0h26.8m-13.4 -13.4v26.8m0 -13.4m-9.5 -9.5l19 19m0 -19l-19 19m9.5 -9.5M771.51 318.25m-13.4 0h26.8m-13.4 -13.4v26.8m0 -13.4m-9.5 -9.5l19 19m0 -19l-19 19m9.5 -9.5M782.27 317.15m-13.4 0h26.8m-13.4 -13.4v26.8m0 -13.4m-9.5 -9.5l19 19m0 -19l-19 19m9.5 -9.5M793.04 316.09m-13.4 0h26.8m-13.4 -13.4v26.8m0 -13.4m-9.5 -9.5l19 19m0 -19l-19 19m9.5 -9.5M803.8 315.05m-13.4 0h26.8m-13.4 -13.4v26.8m0 -13.4m-9.5 -9.5l19 19m0 -19l-19 19m9.5 -9.5M814.57 314.05m-13.4 0h26.8m-13.4 -13.4v26.8m0 -13.4m-9.5 -9.5l19 19m0 -19l-19 19m9.5 -9.5M825.33 313.08m-13.4 0h26.8m-13.4 -13.4v26.8m0 -13.4m-9.5 -9.5l19 19m0 -19l-19 19m9.5 -9.5M836.1 312.15m-13.4 0h26.8m-13.4 -13.4v26.8m0 -13.4m-9.5 -9.5l19 19m0 -19l-19 19m9.5 -9.5M846.86 311.26m-13.4 0h26.8m-13.4 -13.4v26.8m0 -13.4m-9.5 -9.5l19 19m0 -19l-19 19m9.5 -9.5M857.62 310.4m-13.4 0h26.8m-13.4 -13.4v26.8m0 -13.4m-9.5 -9.5l19 19m0 -19l-19 19m9.5 -9.5M868.39 309.58m-13.4 0h26.8m-13.4 -13.4v26.8m0 -13.4m-9.5 -9.5l19 19m0 -19l-19 19m9.5 -9.5M879.15 308.8m-13.4 0h26.8m-13.4 -13.4v26.8m0 -13.4m-9.5 -9.5l19 19m0 -19l-19 19m9.5 -9.5M889.92 308.05m-13.4 0h26.8m-13.4 -13.4v26.8m0 -13.4m-9.5 -9.5l19 19m0 -19l-19 19m9.5 -9.5M900.68 307.35m-13.4 0h26.8m-13.4 -13.4v26.8m0 -13.4m-9.5 -9.5l19 19m0 -19l-19 19m9.5 -9.5M911.45 306.69m-13.4 0h26.8m-13.4 -13.4v26.8m0 -13.4m-9.5 -9.5l19 19m0 -19l-19 19m9.5 -9.5M922.21 306.08m-13.4 0h26.8m-13.4 -13.4v26.8m0 -13.4m-9.5 -9.5l19 19m0 -19l-19 19m9.5 -9.5M932.97 305.5m-13.4 0h26.8m-13.4 -13.4v26.8m0 -13.4m-9.5 -9.5l19 19m0 -19l-19 19m9.5 -9.5M943.74 304.97m-13.4 0h26.8m-13.4 -13.4v26.8m0 -13.4m-9.5 -9.5l19 19m0 -19l-19 19m9.5 -9.5M954.5 304.49m-13.4 0h26.8m-13.4 -13.4v26.8m0 -13.4m-9.5 -9.5l19 19m0 -19l-19 19m9.5 -9.5M965.27 304.06m-13.4 0h26.8m-13.4 -13.4v26.8m0 -13.4m-9.5 -9.5l19 19m0 -19l-19 19m9.5 -9.5M976.03 303.67m-13.4 0h26.8m-13.4 -13.4v26.8m0 -13.4m-9.5 -9.5l19 19m0 -19l-19 19m9.5 -9.5M986.79 303.33m-13.4 0h26.8m-13.4 -13.4v26.8m0 -13.4m-9.5 -9.5l19 19m0 -19l-19 19m9.5 -9.5M997.56 303.03m-13.4 0h26.8m-13.4 -13.4v26.8m0 -13.4m-9.5 -9.5l19 19m0 -19l-19 19m9.5 -9.5M1008.32 302.79m-13.4 0h26.8m-13.4 -13.4v26.8m0 -13.4m-9.5 -9.5l19 19m0 -19l-19 19m9.5 -9.5M1019.09 302.6m-13.4 0h26.8m-13.4 -13.4v26.8m0 -13.4m-9.5 -9.5l19 19m0 -19l-19 19m9.5 -9.5M1029.85 302.47m-13.4 0h26.8m-13.4 -13.4v26.8m0 -13.4m-9.5 -9.5l19 19m0 -19l-19 19m9.5 -9.5M1040.62 302.38m-13.4 0h26.8m-13.4 -13.4v26.8m0 -13.4m-9.5 -9.5l19 19m0 -19l-19 19m9.5 -9.5M1051.38 302.35m-13.4 0h26.8m-13.4 -13.4v26.8m0 -13.4m-9.5 -9.5l19 19m0 -19l-19 19m9.5 -9.5M1062.14 302.38m-13.4 0h26.8m-13.4 -13.4v26.8m0 -13.4m-9.5 -9.5l19 19m0 -19l-19 19m9.5 -9.5M1072.91 302.46m-13.4 0h26.8m-13.4 -13.4v26.8m0 -13.4m-9.5 -9.5l19 19m0 -19l-19 19m9.5 -9.5M1083.67 302.59m-13.4 0h26.8m-13.4 -13.4v26.8m0 -13.4m-9.5 -9.5l19 19m0 -19l-19 19m9.5 -9.5M1094.44 302.79m-13.4 0h26.8m-13.4 -13.4v26.8m0 -13.4m-9.5 -9.5l19 19m0 -19l-19 19m9.5 -9.5M1105.2 303.04m-13.4 0h26.8m-13.4 -13.4v26.8m0 -13.4m-9.5 -9.5l19 19m0 -19l-19 19m9.5 -9.5M1115.97 303.36m-13.4 0h26.8m-13.4 -13.4v26.8m0 -13.4m-9.5 -9.5l19 19m0 -19l-19 19m9.5 -9.5M1126.73 303.73m-13.4 0h26.8m-13.4 -13.4v26.8m0 -13.4m-9.5 -9.5l19 19m0 -19l-19 19m9.5 -9.5M1137.49 304.17m-13.4 0h26.8m-13.4 -13.4v26.8m0 -13.4m-9.5 -9.5l19 19m0 -19l-19 19m9.5 -9.5M1148.26 304.67m-13.4 0h26.8m-13.4 -13.4v26.8m0 -13.4m-9.5 -9.5l19 19m0 -19l-19 19m9.5 -9.5M1159.02 305.23m-13.4 0h26.8m-13.4 -13.4v26.8m0 -13.4m-9.5 -9.5l19 19m0 -19l-19 19m9.5 -9.5M1169.79 305.85m-13.4 0h26.8m-13.4 -13.4v26.8m0 -13.4m-9.5 -9.5l19 19m0 -19l-19 19m9.5 -9.5M1180.55 306.54m-13.4 0h26.8m-13.4 -13.4v26.8m0 -13.4m-9.5 -9.5l19 19m0 -19l-19 19m9.5 -9.5M1191.31 307.28m-13.4 0h26.8m-13.4 -13.4v26.8m0 -13.4m-9.5 -9.5l19 19m0 -19l-19 19m9.5 -9.5M1202.08 308.09m-13.4 0h26.8m-13.4 -13.4v26.8m0 -13.4m-9.5 -9.5l19 19m0 -19l-19 19m9.5 -9.5M1212.84 308.95m-13.4 0h26.8m-13.4 -13.4v26.8m0 -13.4m-9.5 -9.5l19 19m0 -19l-19 19m9.5 -9.5M1223.61 309.87m-13.4 0h26.8m-13.4 -13.4v26.8m0 -13.4m-9.5 -9.5l19 19m0 -19l-19 19m9.5 -9.5M1234.37 310.84m-13.4 0h26.8m-13.4 -13.4v26.8m0 -13.4m-9.5 -9.5l19 19m0 -19l-19 19m9.5 -9.5M1245.14 311.87m-13.4 0h26.8m-13.4 -13.4v26.8m0 -13.4m-9.5 -9.5l19 19m0 -19l-19 19m9.5 -9.5M1255.9 312.95m-13.4 0h26.8m-13.4 -13.4v26.8m0 -13.4m-9.5 -9.5l19 19m0 -19l-19 19m9.5 -9.5M1266.66 314.09m-13.4 0h26.8m-13.4 -13.4v26.8m0 -13.4m-9.5 -9.5l19 19m0 -19l-19 19m9.5 -9.5M1277.43 315.27m-13.4 0h26.8m-13.4 -13.4v26.8m0 -13.4m-9.5 -9.5l19 19m0 -19l-19 19m9.5 -9.5M1288.19 316.5m-13.4 0h26.8m-13.4 -13.4v26.8m0 -13.4m-9.5 -9.5l19 19m0 -19l-19 19m9.5 -9.5M1298.96 317.78m-13.4 0h26.8m-13.4 -13.4v26.8m0 -13.4m-9.5 -9.5l19 19m0 -19l-19 19m9.5 -9.5M1309.72 319.11m-13.4 0h26.8m-13.4 -13.4v26.8m0 -13.4m-9.5 -9.5l19 19m0 -19l-19 19m9.5 -9.5M1320.49 320.49m-13.4 0h26.8m-13.4 -13.4v26.8m0 -13.4m-9.5 -9.5l19 19m0 -19l-19 19m9.5 -9.5M1331.25 321.91m-13.4 0h26.8m-13.4 -13.4v26.8m0 -13.4m-9.5 -9.5l19 19m0 -19l-19 19m9.5 -9.5M1342.01 323.37m-13.4 0h26.8m-13.4 -13.4v26.8m0 -13.4m-9.5 -9.5l19 19m0 -19l-19 19m9.5 -9.5M1352.78 324.87m-13.4 0h26.8m-13.4 -13.4v26.8m0 -13.4m-9.5 -9.5l19 19m0 -19l-19 19m9.5 -9.5M1363.54 326.42m-13.4 0h26.8m-13.4 -13.4v26.8m0 -13.4m-9.5 -9.5l19 19m0 -19l-19 19m9.5 -9.5M1374.31 328.01m-13.4 0h26.8m-13.4 -13.4v26.8m0 -13.4m-9.5 -9.5l19 19m0 -19l-19 19m9.5 -9.5M1385.07 329.63m-13.4 0h26.8m-13.4 -13.4v26.8m0 -13.4m-9.5 -9.5l19 19m0 -19l-19 19m9.5 -9.5M1395.83 331.3m-13.4 0h26.8m-13.4 -13.4v26.8m0 -13.4m-9.5 -9.5l19 19m0 -19l-19 19m9.5 -9.5M1406.6 333m-13.4 0h26.8m-13.4 -13.4v26.8m0 -13.4m-9.5 -9.5l19 19m0 -19l-19 19m9.5 -9.5M1417.36 334.73m-13.4 0h26.8m-13.4 -13.4v26.8m0 -13.4m-9.5 -9.5l19 19m0 -19l-19 19m9.5 -9.5M1428.13 336.5m-13.4 0h26.8m-13.4 -13.4v26.8m0 -13.4m-9.5 -9.5l19 19m0 -19l-19 19m9.5 -9.5M1438.89 338.3m-13.4 0h26.8m-13.4 -13.4v26.8m0 -13.4m-9.5 -9.5l19 19m0 -19l-19 19m9.5 -9.5M1449.66 340.14m-13.4 0h26.8m-13.4 -13.4v26.8m0 -13.4m-9.5 -9.5l19 19m0 -19l-19 19m9.5 -9.5M1460.42 342m-13.4 0h26.8m-13.4 -13.4v26.8m0 -13.4m-9.5 -9.5l19 19m0 -19l-19 19m9.5 -9.5M1471.18 343.89m-13.4 0h26.8m-13.4 -13.4v26.8m0 -13.4m-9.5 -9.5l19 19m0 -19l-19 19m9.5 -9.5M1481.95 345.82m-13.4 0h26.8m-13.4 -13.4v26.8m0 -13.4m-9.5 -9.5l19 19m0 -19l-19 19m9.5 -9.5M1492.71 347.77m-13.4 0h26.8m-13.4 -13.4v26.8m0 -13.4m-9.5 -9.5l19 19m0 -19l-19 19m9.5 -9.5M1503.48 349.74m-13.4 0h26.8m-13.4 -13.4v26.8m0 -13.4m-9.5 -9.5l19 19m0 -19l-19 19m9.5 -9.5M1514.24 351.74m-13.4 0h26.8m-13.4 -13.4v26.8m0 -13.4m-9.5 -9.5l19 19m0 -19l-19 19m9.5 -9.5M1525.01 353.77m-13.4 0h26.8m-13.4 -13.4v26.8m0 -13.4m-9.5 -9.5l19 19m0 -19l-19 19m9.5 -9.5M1535.77 355.81m-13.4 0h26.8m-13.4 -13.4v26.8m0 -13.4m-9.5 -9.5l19 19m0 -19l-19 19m9.5 -9.5M1546.53 357.88m-13.4 0h26.8m-13.4 -13.4v26.8m0 -13.4m-9.5 -9.5l19 19m0 -19l-19 19m9.5 -9.5M1557.3 359.97m-13.4 0h26.8m-13.4 -13.4v26.8m0 -13.4m-9.5 -9.5l19 19m0 -19l-19 19m9.5 -9.5M1568.06 362.08m-13.4 0h26.8m-13.4 -13.4v26.8m0 -13.4m-9.5 -9.5l19 19m0 -19l-19 19m9.5 -9.5M1578.83 364.2m-13.4 0h26.8m-13.4 -13.4v26.8m0 -13.4m-9.5 -9.5l19 19m0 -19l-19 19m9.5 -9.5M1589.59 366.34m-13.4 0h26.8m-13.4 -13.4v26.8m0 -13.4m-9.5 -9.5l19 19m0 -19l-19 19m9.5 -9.5M1600.35 368.5m-13.4 0h26.8m-13.4 -13.4v26.8m0 -13.4m-9.5 -9.5l19 19m0 -19l-19 19m9.5 -9.5M1611.12 370.67m-13.4 0h26.8m-13.4 -13.4v26.8m0 -13.4m-9.5 -9.5l19 19m0 -19l-19 19m9.5 -9.5M1621.88 372.85m-13.4 0h26.8m-13.4 -13.4v26.8m0 -13.4m-9.5 -9.5l19 19m0 -19l-19 19m9.5 -9.5M1632.65 375.05m-13.4 0h26.8m-13.4 -13.4v26.8m0 -13.4m-9.5 -9.5l19 19m0 -19l-19 19m9.5 -9.5M1643.41 377.26m-13.4 0h26.8m-13.4 -13.4v26.8m0 -13.4m-9.5 -9.5l19 19m0 -19l-19 19m9.5 -9.5M1654.18 379.47m-13.4 0h26.8m-13.4 -13.4v26.8m0 -13.4m-9.5 -9.5l19 19m0 -19l-19 19m9.5 -9.5M1664.94 381.7m-13.4 0h26.8m-13.4 -13.4v26.8m0 -13.4m-9.5 -9.5l19 19m0 -19l-19 19m9.5 -9.5M1675.7 383.93m-13.4 0h26.8m-13.4 -13.4v26.8m0 -13.4m-9.5 -9.5l19 19m0 -19l-19 19m9.5 -9.5M1686.47 386.16m-13.4 0h26.8m-13.4 -13.4v26.8m0 -13.4m-9.5 -9.5l19 19m0 -19l-19 19m9.5 -9.5M1697.23 388.41m-13.4 0h26.8m-13.4 -13.4v26.8m0 -13.4m-9.5 -9.5l19 19m0 -19l-19 19m9.5 -9.5M1708 390.65m-13.4 0h26.8m-13.4 -13.4v26.8m0 -13.4m-9.5 -9.5l19 19m0 -19l-19 19m9.5 -9.5M1718.76 392.9m-13.4 0h26.8m-13.4 -13.4v26.8m0 -13.4m-9.5 -9.5l19 19m0 -19l-19 19m9.5 -9.5M1729.53 395.15m-13.4 0h26.8m-13.4 -13.4v26.8m0 -13.4m-9.5 -9.5l19 19m0 -19l-19 19m9.5 -9.5M1740.29 397.4m-13.4 0h26.8m-13.4 -13.4v26.8m0 -13.4m-9.5 -9.5l19 19m0 -19l-19 19m9.5 -9.5M1751.05 399.66m-13.4 0h26.8m-13.4 -13.4v26.8m0 -13.4m-9.5 -9.5l19 19m0 -19l-19 19m9.5 -9.5M1761.82 401.91m-13.4 0h26.8m-13.4 -13.4v26.8m0 -13.4m-9.5 -9.5l19 19m0 -19l-19 19m9.5 -9.5M1772.58 404.15m-13.4 0h26.8m-13.4 -13.4v26.8m0 -13.4m-9.5 -9.5l19 19m0 -19l-19 19m9.5 -9.5M1783.35 406.4m-13.4 0h26.8m-13.4 -13.4v26.8m0 -13.4m-9.5 -9.5l19 19m0 -19l-19 19m9.5 -9.5M1794.11 408.64m-13.4 0h26.8m-13.4 -13.4v26.8m0 -13.4m-9.5 -9.5l19 19m0 -19l-19 19m9.5 -9.5M1804.87 410.88m-13.4 0h26.8m-13.4 -13.4v26.8m0 -13.4m-9.5 -9.5l19 19m0 -19l-19 19m9.5 -9.5M1815.64 413.11m-13.4 0h26.8m-13.4 -13.4v26.8m0 -13.4m-9.5 -9.5l19 19m0 -19l-19 19m9.5 -9.5M1826.4 415.33m-13.4 0h26.8m-13.4 -13.4v26.8m0 -13.4m-9.5 -9.5l19 19m0 -19l-19 19m9.5 -9.5M1837.17 417.55m-13.4 0h26.8m-13.4 -13.4v26.8m0 -13.4m-9.5 -9.5l19 19m0 -19l-19 19m9.5 -9.5M1847.93 419.75m-13.4 0h26.8m-13.4 -13.4v26.8m0 -13.4m-9.5 -9.5l19 19m0 -19l-19 19m9.5 -9.5M1858.7 421.95m-13.4 0h26.8m-13.4 -13.4v26.8m0 -13.4m-9.5 -9.5l19 19m0 -19l-19 19m9.5 -9.5M1869.46 424.13m-13.4 0h26.8m-13.4 -13.4v26.8m0 -13.4m-9.5 -9.5l19 19m0 -19l-19 19m9.5 -9.5M1880.22 426.3m-13.4 0h26.8m-13.4 -13.4v26.8m0 -13.4m-9.5 -9.5l19 19m0 -19l-19 19m9.5 -9.5M1890.99 428.46m-13.4 0h26.8m-13.4 -13.4v26.8m0 -13.4m-9.5 -9.5l19 19m0 -19l-19 19m9.5 -9.5M1901.75 430.61m-13.4 0h26.8m-13.4 -13.4v26.8m0 -13.4m-9.5 -9.5l19 19m0 -19l-19 19m9.5 -9.5M1912.52 432.74m-13.4 0h26.8m-13.4 -13.4v26.8m0 -13.4m-9.5 -9.5l19 19m0 -19l-19 19m9.5 -9.5M1923.28 434.86m-13.4 0h26.8m-13.4 -13.4v26.8m0 -13.4m-9.5 -9.5l19 19m0 -19l-19 19m9.5 -9.5M1934.05 436.95m-13.4 0h26.8m-13.4 -13.4v26.8m0 -13.4m-9.5 -9.5l19 19m0 -19l-19 19m9.5 -9.5M1944.81 439.03m-13.4 0h26.8m-13.4 -13.4v26.8m0 -13.4m-9.5 -9.5l19 19m0 -19l-19 19m9.5 -9.5M1955.57 441.1m-13.4 0h26.8m-13.4 -13.4v26.8m0 -13.4m-9.5 -9.5l19 19m0 -19l-19 19m9.5 -9.5M1966.34 443.14m-13.4 0h26.8m-13.4 -13.4v26.8m0 -13.4m-9.5 -9.5l19 19m0 -19l-19 19m9.5 -9.5M1977.1 445.16m-13.4 0h26.8m-13.4 -13.4v26.8m0 -13.4m-9.5 -9.5l19 19m0 -19l-19 19m9.5 -9.5M1987.87 447.16m-13.4 0h26.8m-13.4 -13.4v26.8m0 -13.4m-9.5 -9.5l19 19m0 -19l-19 19m9.5 -9.5M1998.63 449.13m-13.4 0h26.8m-13.4 -13.4v26.8m0 -13.4m-9.5 -9.5l19 19m0 -19l-19 19m9.5 -9.5M2009.39 451.08m-13.4 0h26.8m-13.4 -13.4v26.8m0 -13.4m-9.5 -9.5l19 19m0 -19l-19 19m9.5 -9.5M2020.16 453.01m-13.4 0h26.8m-13.4 -13.4v26.8m0 -13.4m-9.5 -9.5l19 19m0 -19l-19 19m9.5 -9.5M2030.92 454.91m-13.4 0h26.8m-13.4 -13.4v26.8m0 -13.4m-9.5 -9.5l19 19m0 -19l-19 19m9.5 -9.5M2041.69 456.78m-13.4 0h26.8m-13.4 -13.4v26.8m0 -13.4m-9.5 -9.5l19 19m0 -19l-19 19m9.5 -9.5M2052.45 458.63m-13.4 0h26.8m-13.4 -13.4v26.8m0 -13.4m-9.5 -9.5l19 19m0 -19l-19 19m9.5 -9.5M2063.22 460.45m-13.4 0h26.8m-13.4 -13.4v26.8m0 -13.4m-9.5 -9.5l19 19m0 -19l-19 19m9.5 -9.5M2073.98 462.24m-13.4 0h26.8m-13.4 -13.4v26.8m0 -13.4m-9.5 -9.5l19 19m0 -19l-19 19m9.5 -9.5M2084.74 463.99m-13.4 0h26.8m-13.4 -13.4v26.8m0 -13.4m-9.5 -9.5l19 19m0 -19l-19 19m9.5 -9.5M2095.51 465.72m-13.4 0h26.8m-13.4 -13.4v26.8m0 -13.4m-9.5 -9.5l19 19m0 -19l-19 19m9.5 -9.5" fill="none" stroke="#7E2F8E" stroke-width="2.1"/>
<path d="M297.89 217.02m-9.3 -9.3l18.6 18.6m0 -18.6l-18.6 18.6m9.3 -9.3M308.65 214.94m-9.3 -9.3l18.6 18.6m0 -18.6l-18.6 18.6m9.3 -9.3M319.41 212.89m-9.3 -9.3l18.6 18.6m0 -18.6l-18.6 18.6m9.3 -9.3M330.18 210.85m-9.3 -9.3l18.6 18.6m0 -18.6l-18.6 18.6m9.3 -9.3M340.94 208.84m-9.3 -9.3l18.6 18.6m0 -18.6l-18.6 18.6m9.3 -9.3M351.71 206.85m-9.3 -9.3l18.6 18.6m0 -18.6l-18.6 18.6m9.3 -9.3M362.47 204.89m-9.3 -9.3l18.6 18.6m0 -18.6l-18.6 18.6m9.3 -9.3M373.23 202.95m-9.3 -9.3l18.6 18.6m0 -18.6l-18.6 18.6m9.3 -9.3M384 201.03m-9.3 -9.3l18.6 18.6m0 -18.6l-18.6 18.6m9.3 -9.3M394.76 199.15m-9.3 -9.3l18.6 18.6m0 -18.6l-18.6 18.6m9.3 -9.3M405.53 197.29m-9.3 -9.3l18.6 18.6m0 -18.6l-18.6 18.6m9.3 -9.3M416.29 195.46m-9.3 -9.3l18.6 18.6m0 -18.6l-18.6 18.6m9.3 -9.3M427.06 193.66m-9.3 -9.3l18.6 18.6m0 -18.6l-18.6 18.6m9.3 -9.3M437.82 191.89m-9.3 -9.3l18.6 18.6m0 -18.6l-18.6 18.6m9.3 -9.3M448.58 190.14m-9.3 -9.3l18.6 18.6m0 -18.6l-18.6 18.6m9.3 -9.3M459.35 188.43m-9.3 -9.3l18.6 18.6m0 -18.6l-18.6 18.6m9.3 -9.3M470.11 186.75m-9.3 -9.3l18.6 18.6m0 -18.6l-18.6 18.6m9.3 -9.3M480.88 185.1m-9.3 -9.3l18.6 18.6m0 -18.6l-18.6 18.6m9.3 -9.3M491.64 183.49m-9.3 -9.3l18.6 18.6m0 -18.6l-18.6 18.6m9.3 -9.3M502.41 181.91m-9.3 -9.3l18.6 18.6m0 -18.6l-18.6 18.6m9.3 -9.3M513.17 180.36m-9.3 -9.3l18.6 18.6m0 -18.6l-18.6 18.6m9.3 -9.3M523.93 178.85m-9.3 -9.3l18.6 18.6m0 -18.6l-18.6 18.6m9.3 -9.3M534.7 177.37m-9.3 -9.3l18.6 18.6m0 -18.6l-18.6 18.6m9.3 -9.3M545.46 175.93m-9.3 -9.3l18.6 18.6m0 -18.6l-18.6 18.6m9.3 -9.3M556.23 174.52m-9.3 -9.3l18.6 18.6m0 -18.6l-18.6 18.6m9.3 -9.3M566.99 173.15m-9.3 -9.3l18.6 18.6m0 -18.6l-18.6 18.6m9.3 -9.3M577.75 171.83m-9.3 -9.3l18.6 18.6m0 -18.6l-18.6 18.6m9.3 -9.3M588.52 170.53m-9.3 -9.3l18.6 18.6m0 -18.6l-18.6 18.6m9.3 -9.3M599.28 169.28m-9.3 -9.3l18.6 18.6m0 -18.6l-18.6 18.6m9.3 -9.3M610.05 168.07m-9.3 -9.3l18.6 18.6m0 -18.6l-18.6 18.6m9.3 -9.3M620.81 166.9m-9.3 -9.3l18.6 18.6m0 -18.6l-18.6 18.6m9.3 -9.3M631.58 165.77m-9.3 -9.3l18.6 18.6m0 -18.6l-18.6 18.6m9.3 -9.3M642.34 164.69m-9.3 -9.3l18.6 18.6m0 -18.6l-18.6 18.6m9.3 -9.3M653.1 163.64m-9.3 -9.3l18.6 18.6m0 -18.6l-18.6 18.6m9.3 -9.3M663.87 162.64m-9.3 -9.3l18.6 18.6m0 -18.6l-18.6 18.6m9.3 -9.3M674.63 161.69m-9.3 -9.3l18.6 18.6m0 -18.6l-18.6 18.6m9.3 -9.3M685.4 160.77m-9.3 -9.3l18.6 18.6m0 -18.6l-18.6 18.6m9.3 -9.3M696.16 159.91m-9.3 -9.3l18.6 18.6m0 -18.6l-18.6 18.6m9.3 -9.3M706.93 159.09m-9.3 -9.3l18.6 18.6m0 -18.6l-18.6 18.6m9.3 -9.3M717.69 158.32m-9.3 -9.3l18.6 18.6m0 -18.6l-18.6 18.6m9.3 -9.3M728.45 157.59m-9.3 -9.3l18.6 18.6m0 -18.6l-18.6 18.6m9.3 -9.3M739.22 156.91m-9.3 -9.3l18.6 18.6m0 -18.6l-18.6 18.6m9.3 -9.3M749.98 156.28m-9.3 -9.3l18.6 18.6m0 -18.6l-18.6 18.6m9.3 -9.3M760.75 155.71m-9.3 -9.3l18.6 18.6m0 -18.6l-18.6 18.6m9.3 -9.3M771.51 155.18m-9.3 -9.3l18.6 18.6m0 -18.6l-18.6 18.6m9.3 -9.3M782.27 154.7m-9.3 -9.3l18.6 18.6m0 -18.6l-18.6 18.6m9.3 -9.3M793.04 154.27m-9.3 -9.3l18.6 18.6m0 -18.6l-18.6 18.6m9.3 -9.3M803.8 153.9m-9.3 -9.3l18.6 18.6m0 -18.6l-18.6 18.6m9.3 -9.3M814.57 153.58m-9.3 -9.3l18.6 18.6m0 -18.6l-18.6 18.6m9.3 -9.3M825.33 153.31m-9.3 -9.3l18.6 18.6m0 -18.6l-18.6 18.6m9.3 -9.3M836.1 153.1m-9.3 -9.3l18.6 18.6m0 -18.6l-18.6 18.6m9.3 -9.3M846.86 152.94m-9.3 -9.3l18.6 18.6m0 -18.6l-18.6 18.6m9.3 -9.3M857.62 152.83m-9.3 -9.3l18.6 18.6m0 -18.6l-18.6 18.6m9.3 -9.3M868.39 152.79m-9.3 -9.3l18.6 18.6m0 -18.6l-18.6 18.6m9.3 -9.3M879.15 152.8m-9.3 -9.3l18.6 18.6m0 -18.6l-18.6 18.6m9.3 -9.3M889.92 152.87m-9.3 -9.3l18.6 18.6m0 -18.6l-18.6 18.6m9.3 -9.3M900.68 152.99m-9.3 -9.3l18.6 18.6m0 -18.6l-18.6 18.6m9.3 -9.3M911.45 153.18m-9.3 -9.3l18.6 18.6m0 -18.6l-18.6 18.6m9.3 -9.3M922.21 153.42m-9.3 -9.3l18.6 18.6m0 -18.6l-18.6 18.6m9.3 -9.3M932.97 153.73m-9.3 -9.3l18.6 18.6m0 -18.6l-18.6 18.6m9.3 -9.3M943.74 154.09m-9.3 -9.3l18.6 18.6m0 -18.6l-18.6 18.6m9.3 -9.3M954.5 154.52m-9.3 -9.3l18.6 18.6m0 -18.6l-18.6 18.6m9.3 -9.3M965.27 155m-9.3 -9.3l18.6 18.6m0 -18.6l-18.6 18.6m9.3 -9.3M976.03 155.55m-9.3 -9.3l18.6 18.6m0 -18.6l-18.6 18.6m9.3 -9.3M986.79 156.15m-9.3 -9.3l18.6 18.6m0 -18.6l-18.6 18.6m9.3 -9.3M997.56 156.81m-9.3 -9.3l18.6 18.6m0 -18.6l-18.6 18.6m9.3 -9.3M1008.32 157.52m-9.3 -9.3l18.6 18.6m0 -18.6l-18.6 18.6m9.3 -9.3M1019.09 158.29m-9.3 -9.3l18.6 18.6m0 -18.6l-18.6 18.6m9.3 -9.3M1029.85 159.12m-9.3 -9.3l18.6 18.6m0 -18.6l-18.6 18.6m9.3 -9.3M1040.62 160m-9.3 -9.3l18.6 18.6m0 -18.6l-18.6 18.6m9.3 -9.3M1051.38 160.94m-9.3 -9.3l18.6 18.6m0 -18.6l-18.6 18.6m9.3 -9.3M1062.14 161.92m-9.3 -9.3l18.6 18.6m0 -18.6l-18.6 18.6m9.3 -9.3M1072.91 162.96m-9.3 -9.3l18.6 18.6m0 -18.6l-18.6 18.6m9.3 -9.3M1083.67 164.05m-9.3 -9.3l18.6 18.6m0 -18.6l-18.6 18.6m9.3 -9.3M1094.44 165.2m-9.3 -9.3l18.6 18.6m0 -18.6l-18.6 18.6m9.3 -9.3M1105.2 166.39m-9.3 -9.3l18.6 18.6m0 -18.6l-18.6 18.6m9.3 -9.3M1115.97 167.63m-9.3 -9.3l18.6 18.6m0 -18.6l-18.6 18.6m9.3 -9.3M1126.73 168.92m-9.3 -9.3l18.6 18.6m0 -18.6l-18.6 18.6m9.3 -9.3M1137.49 170.26m-9.3 -9.3l18.6 18.6m0 -18.6l-18.6 18.6m9.3 -9.3M1148.26 171.64m-9.3 -9.3l18.6 18.6m0 -18.6l-18.6 18.6m9.3 -9.3M1159.02 173.07m-9.3 -9.3l18.6 18.6m0 -18.6l-18.6 18.6m9.3 -9.3M1169.79 174.55m-9.3 -9.3l18.6 18.6m0 -18.6l-18.6 18.6m9.3 -9.3M1180.55 176.07m-9.3 -9.3l18.6 18.6m0 -18.6l-18.6 18.6m9.3 -9.3M1191.31 177.64m-9.3 -9.3l18.6 18.6m0 -18.6l-18.6 18.6m9.3 -9.3M1202.08 179.24m-9.3 -9.3l18.6 18.6m0 -18.6l-18.6 18.6m9.3 -9.3M1212.84 180.9m-9.3 -9.3l18.6 18.6m0 -18.6l-18.6 18.6m9.3 -9.3M1223.61 182.59m-9.3 -9.3l18.6 18.6m0 -18.6l-18.6 18.6m9.3 -9.3M1234.37 184.32m-9.3 -9.3l18.6 18.6m0 -18.6l-18.6 18.6m9.3 -9.3M1245.14 186.1m-9.3 -9.3l18.6 18.6m0 -18.6l-18.6 18.6m9.3 -9.3M1255.9 187.91m-9.3 -9.3l18.6 18.6m0 -18.6l-18.6 18.6m9.3 -9.3M1266.66 189.77m-9.3 -9.3l18.6 18.6m0 -18.6l-18.6 18.6m9.3 -9.3M1277.43 191.66m-9.3 -9.3l18.6 18.6m0 -18.6l-18.6 18.6m9.3 -9.3M1288.19 193.59m-9.3 -9.3l18.6 18.6m0 -18.6l-18.6 18.6m9.3 -9.3M1298.96 195.55m-9.3 -9.3l18.6 18.6m0 -18.6l-18.6 18.6m9.3 -9.3M1309.72 197.56m-9.3 -9.3l18.6 18.6m0 -18.6l-18.6 18.6m9.3 -9.3M1320.49 199.59m-9.3 -9.3l18.6 18.6m0 -18.6l-18.6 18.6m9.3 -9.3M1331.25 201.67m-9.3 -9.3l18.6 18.6m0 -18.6l-18.6 18.6m9.3 -9.3M1342.01 203.77m-9.3 -9.3l18.6 18.6m0 -18.6l-18.6 18.6m9.3 -9.3M1352.78 205.91m-9.3 -9.3l18.6 18.6m0 -18.6l-18.6 18.6m9.3 -9.3M1363.54 208.09m-9.3 -9.3l18.6 18.6m0 -18.6l-18.6 18.6m9.3 -9.3M1374.31 210.29m-9.3 -9.3l18.6 18.6m0 -18.6l-18.6 18.6m9.3 -9.3M1385.07 212.52m-9.3 -9.3l18.6 18.6m0 -18.6l-18.6 18.6m9.3 -9.3M1395.83 214.79m-9.3 -9.3l18.6 18.6m0 -18.6l-18.6 18.6m9.3 -9.3M1406.6 217.08m-9.3 -9.3l18.6 18.6m0 -18.6l-18.6 18.6m9.3 -9.3M1417.36 219.41m-9.3 -9.3l18.6 18.6m0 -18.6l-18.6 18.6m9.3 -9.3M1428.13 221.76m-9.3 -9.3l18.6 18.6m0 -18.6l-18.6 18.6m9.3 -9.3M1438.89 224.14m-9.3 -9.3l18.6 18.6m0 -18.6l-18.6 18.6m9.3 -9.3M1449.66 226.54m-9.3 -9.3l18.6 18.6m0 -18.6l-18.6 18.6m9.3 -9.3M1460.42 228.97m-9.3 -9.3l18.6 18.6m0 -18.6l-18.6 18.6m9.3 -9.3M1471.18 231.43m-9.3 -9.3l18.6 18.6m0 -18.6l-18.6 18.6m9.3 -9.3M1481.95 233.91m-9.3 -9.3l18.6 18.6m0 -18.6l-18.6 18.6m9.3 -9.3M1492.71 236.41m-9.3 -9.3l18.6 18.6m0 -18.6l-18.6 18.6m9.3 -9.3M1503.48 238.94m-9.3 -9.3l18.6 18.6m0 -18.6l-18.6 18.6m9.3 -9.3M1514.24 241.49m-9.3 -9.3l18.6 18.6m0 -18.6l-18.6 18.6m9.3 -9.3M1525.01 244.06m-9.3 -9.3l18.6 18.6m0 -18.6l-18.6 18.6m9.3 -9.3M1535.77 246.65m-9.3 -9.3l18.6 18.6m0 -18.6l-18.6 18.6m9.3 -9.3M1546.53 249.26m-9.3 -9.3l18.6 18.6m0 -18.6l-18.6 18.6m9.3 -9.3M1557.3 251.89m-9.3 -9.3l18.6 18.6m0 -18.6l-18.6 18.6m9.3 -9.3M1568.06 254.54m-9.3 -9.3l18.6 18.6m0 -18.6l-18.6 18.6m9.3 -9.3M1578.83 257.21m-9.3 -9.3l18.6 18.6m0 -18.6l-18.6 18.6m9.3 -9.3M1589.59 259.89m-9.3 -9.3l18.6 18.6m0 -18.6l-18.6 18.6m9.3 -9.3M1600.35 262.59m-9.3 -9.3l18.6 18.6m0 -18.6l-18.6 18.6m9.3 -9.3M1611.12 265.31m-9.3 -9.3l18.6 18.6m0 -18.6l-18.6 18.6m9.3 -9.3M1621.88 268.04m-9.3 -9.3l18.6 18.6m0 -18.6l-18.6 18.6m9.3 -9.3" fill="none" stroke="#77AC30" stroke-width="2.1"/>
<path d="M297.89 102.92m-13.4 0h26.8m-13.4 -13.4v26.8m0 -13.4m-9.5 -9.5l19 19m0 -19l-19 19m9.5 -9.5M308.65 102.27m-13.4 0h26.8m-13.4 -13.4v26.8m0 -13.4m-9.5 -9.5l19 19m0 -19l-19 19m9.5 -9.5M319.41 101.68m-13.4 0h26.8m-13.4 -13.4v26.8m0 -13.4m-9.5 -9.5l19 19m0 -19l-19 19m9.5 -9.5M330.18 101.16m-13.4 0h26.8m-13.4 -13.4v26.8m0 -13.4m-9.5 -9.5l19 19m0 -19l-19 19m9.5 -9.5M340.94 100.68m-13.4 0h26.8m-13.4 -13.4v26.8m0 -13.4m-9.5 -9.5l19 19m0 -19l-19 19m9.5 -9.5M351.71 100.27m-13.4 0h26.8m-13.4 -13.4v26.8m0 -13.4m-9.5 -9.5l19 19m0 -19l-19 19m9.5 -9.5M362.47 99.91m-13.4 0h26.8m-13.4 -13.4v26.8m0 -13.4m-9.5 -9.5l19 19m0 -19l-19 19m9.5 -9.5M373.23 99.61m-13.4 0h26.8m-13.4 -13.4v26.8m0 -13.4m-9.5 -9.5l19 19m0 -19l-19 19m9.5 -9.5M384 99.37m-13.4 0h26.8m-13.4 -13.4v26.8m0 -13.4m-9.5 -9.5l19 19m0 -19l-19 19m9.5 -9.5M394.76 99.17m-13.4 0h26.8m-13.4 -13.4v26.8m0 -13.4m-9.5 -9.5l19 19m0 -19l-19 19m9.5 -9.5M405.53 99.03m-13.4 0h26.8m-13.4 -13.4v26.8m0 -13.4m-9.5 -9.5l19 19m0 -19l-19 19m9.5 -9.5M416.29 98.95m-13.4 0h26.8m-13.4 -13.4v26.8m0 -13.4m-9.5 -9.5l19 19m0 -19l-19 19m9.5 -9.5M427.06 98.91m-13.4 0h26.8m-13.4 -13.4v26.8m0 -13.4m-9.5 -9.5l19 19m0 -19l-19 19m9.5 -9.5M437.82 98.92m-13.4 0h26.8m-13.4 -13.4v26.8m0 -13.4m-9.5 -9.5l19 19m0 -19l-19 19m9.5 -9.5M448.58 98.99m-13.4 0h26.8m-13.4 -13.4v26.8m0 -13.4m-9.5 -9.5l19 19m0 -19l-19 19m9.5 -9.5M459.35 99.1m-13.4 0h26.8m-13.4 -13.4v26.8m0 -13.4m-9.5 -9.5l19 19m0 -19l-19 19m9.5 -9.5M470.11 99.26m-13.4 0h26.8m-13.4 -13.4v26.8m0 -13.4m-9.5 -9.5l19 19m0 -19l-19 19m9.5 -9.5M480.88 99.47m-13.4 0h26.8m-13.4 -13.4v26.8m0 -13.4m-9.5 -9.5l19 19m0 -19l-19 19m9.5 -9.5M491.64 99.73m-13.4 0h26.8m-13.4 -13.4v26.8m0 -13.4m-9.5 -9.5l19 19m0 -19l-19 19m9.5 -9.5M502.41 100.03m-13.4 0h26.8m-13.4 -13.4v26.8m0 -13.4m-9.5 -9.5l19 19m0 -19l-19 19m9.5 -9.5M513.17 100.37m-13.4 0h26.8m-13.4 -13.4v26.8m0 -13.4m-9.5 -9.5l19 19m0 -19l-19 19m9.5 -9.5M523.93 100.76m-13.4 0h26.8m-13.4 -13.4v26.8m0 -13.4m-9.5 -9.5l19 19m0 -19l-19 19m9.5 -9.5M534.7 101.19m-13.4 0h26.8m-13.4 -13.4v26.8m0 -13.4m-9.5 -9.5l19 19m0 -19l-19 19m9.5 -9.5M545.46 101.67m-13.4 0h26.8m-13.4 -13.4v26.8m0 -13.4m-9.5 -9.5l19 19m0 -19l-19 19m9.5 -9.5M556.23 102.18m-13.4 0h26.8m-13.4 -13.4v26.8m0 -13.4m-9.5 -9.5l19 19m0 -19l-19 19m9.5 -9.5M566.99 102.74m-13.4 0h26.8m-13.4 -13.4v26.8m0 -13.4m-9.5 -9.5l19 19m0 -19l-19 19m9.5 -9.5M577.75 103.34m-13.4 0h26.8m-13.4 -13.4v26.8m0 -13.4m-9.5 -9.5l19 19m0 -19l-19 19m9.5 -9.5M588.52 103.97m-13.4 0h26.8m-13.4 -13.4v26.8m0 -13.4m-9.5 -9.5l19 19m0 -19l-19 19m9.5 -9.5M599.28 104.65m-13.4 0h26.8m-13.4 -13.4v26.8m0 -13.4m-9.5 -9.5l19 19m0 -19l-19 19m9.5 -9.5M610.05 105.36m-13.4 0h26.8m-13.4 -13.4v26.8m0 -13.4m-9.5 -9.5l19 19m0 -19l-19 19m9.5 -9.5M620.81 106.11m-13.4 0h26.8m-13.4 -13.4v26.8m0 -13.4m-9.5 -9.5l19 19m0 -19l-19 19m9.5 -9.5M631.58 106.89m-13.4 0h26.8m-13.4 -13.4v26.8m0 -13.4m-9.5 -9.5l19 19m0 -19l-19 19m9.5 -9.5M642.34 107.72m-13.4 0h26.8m-13.4 -13.4v26.8m0 -13.4m-9.5 -9.5l19 19m0 -19l-19 19m9.5 -9.5M653.1 108.59m-13.4 0h26.8m-13.4 -13.4v26.8m0 -13.4m-9.5 -9.5l19 19m0 -19l-19 19m9.5 -9.5M663.87 109.5m-13.4 0h26.8m-13.4 -13.4v26.8m0 -13.4m-9.5 -9.5l19 19m0 -19l-19 19m9.5 -9.5M674.63 110.45m-13.4 0h26.8m-13.4 -13.4v26.8m0 -13.4m-9.5 -9.5l19 19m0 -19l-19 19m9.5 -9.5M685.4 111.45m-13.4 0h26.8m-13.4 -13.4v26.8m0 -13.4m-9.5 -9.5l19 19m0 -19l-19 19m9.5 -9.5M696.16 112.49m-13.4 0h26.8m-13.4 -13.4v26.8m0 -13.4m-9.5 -9.5l19 19m0 -19l-19 19m9.5 -9.5M706.93 113.59m-13.4 0h26.8m-13.4 -13.4v26.8m0 -13.4m-9.5 -9.5l19 19m0 -19l-19 19m9.5 -9.5M717.69 114.73m-13.4 0h26.8m-13.4 -13.4v26.8m0 -13.4m-9.5 -9.5l19 19m0 -19l-19 19m9.5 -9.5M728.45 115.92m-13.4 0h26.8m-13.4 -13.4v26.8m0 -13.4m-9.5 -9.5l19 19m0 -19l-19 19m9.5 -9.5M739.22 117.17m-13.4 0h26.8m-13.4 -13.4v26.8m0 -13.4m-9.5 -9.5l19 19m0 -19l-19 19m9.5 -9.5M749.98 118.47m-13.4 0h26.8m-13.4 -13.4v26.8m0 -13.4m-9.5 -9.5l19 19m0 -19l-19 19m9.5 -9.5M760.75 119.82m-13.4 0h26.8m-13.4 -13.4v26.8m0 -13.4m-9.5 -9.5l19 19m0 -19l-19 19m9.5 -9.5M771.51 121.23m-13.4 0h26.8m-13.4 -13.4v26.8m0 -13.4m-9.5 -9.5l19 19m0 -19l-19 19m9.5 -9.5M782.27 122.7m-13.4 0h26.8m-13.4 -13.4v26.8m0 -13.4m-9.5 -9.5l19 19m0 -19l-19 19m9.5 -9.5M793.04 124.23m-13.4 0h26.8m-13.4 -13.4v26.8m0 -13.4m-9.5 -9.5l19 19m0 -19l-19 19m9.5 -9.5M803.8 125.82m-13.4 0h26.8m-13.4 -13.4v26.8m0 -13.4m-9.5 -9.5l19 19m0 -19l-19 19m9.5 -9.5M814.57 127.47m-13.4 0h26.8m-13.4 -13.4v26.8m0 -13.4m-9.5 -9.5l19 19m0 -19l-19 19m9.5 -9.5M825.33 129.19m-13.4 0h26.8m-13.4 -13.4v26.8m0 -13.4m-9.5 -9.5l19 19m0 -19l-19 19m9.5 -9.5M836.1 130.97m-13.4 0h26.8m-13.4 -13.4v26.8m0 -13.4m-9.5 -9.5l19 19m0 -19l-19 19m9.5 -9.5M846.86 132.81m-13.4 0h26.8m-13.4 -13.4v26.8m0 -13.4m-9.5 -9.5l19 19m0 -19l-19 19m9.5 -9.5M857.62 134.73m-13.4 0h26.8m-13.4 -13.4v26.8m0 -13.4m-9.5 -9.5l19 19m0 -19l-19 19m9.5 -9.5M868.39 136.71m-13.4 0h26.8m-13.4 -13.4v26.8m0 -13.4m-9.5 -9.5l19 19m0 -19l-19 19m9.5 -9.5" fill="none" stroke="#4DBEEE" stroke-width="2.1"/>
<g font-family="'Liberation Serif', 'Times New Roman', serif" font-size="56" fill="#262626"><text x="287.12" y="822.2" text-anchor="middle">0</text><text x="502.41" y="822.2" text-anchor="middle">20</text><text x="717.69" y="822.2" text-anchor="middle">40</text><text x="932.97" y="822.2" text-anchor="middle">60</text><text x="1148.26" y="822.2" text-anchor="middle">80</text><text x="1363.54" y="822.2" text-anchor="middle">100</text><text x="1578.83" y="822.2" text-anchor="middle">120</text><text x="1794.11" y="822.2" text-anchor="middle">140</text><text x="2009.39" y="822.2" text-anchor="middle">160</text><text x="2224.68" y="822.2" text-anchor="middle">180</text><text x="213.5" y="710.2" text-anchor="end">0</text><text x="213.5" y="561.58" text-anchor="end">500</text><text x="213.5" y="412.95" text-anchor="end">1000</text><text x="213.5" y="264.32" text-anchor="end">1500</text><text x="213.5" y="115.7" text-anchor="end">2000</text></g>
<text x="1253.8" y="894.0" font-family="'Liberation Serif', 'Times New Roman', serif" font-size="60" fill="#262626" text-anchor="middle">Visibility time(s)</text>
<text transform="translate(78.5 394.9) rotate(-90)" font-family="'Liberation Serif', 'Times New Roman', serif" font-size="60" fill="#262626" text-anchor="middle">Frequency shift error(Hz)</text>
<rect x="1873.3" y="72.8" width="369.6" height="491.6" fill="#fff" stroke="#262626" stroke-width="1.8"/><circle cx="1955.2" cy="118.7" r="13.8" fill="none" stroke="#0072BD" stroke-width="2.1"/><text x="2033" y="125.4" font-family="'Liberation Serif', 'Times New Roman', serif" font-size="50" fill="#000">φ<tspan font-size="40" dy="23.7">max</tspan><tspan dy="-23.7">=0°</tspan></text><path d="M1955.2 198.7m-13.4 0h26.8m-13.4 -13.4v26.8m0 -13.4" fill="none" stroke="#D95319" stroke-width="2.1"/><text x="2033" y="205.4" font-family="'Liberation Serif', 'Times New Roman', serif" font-size="50" fill="#000">φ<tspan font-size="40" dy="23.7">max</tspan><tspan dy="-23.7">=10°</tspan></text><path d="M1955.2 278.7m-9.3 -9.3l18.6 18.6m0 -18.6l-18.6 18.6m9.3 -9.3" fill="none" stroke="#EDB120" stroke-width="2.1"/><text x="2033" y="285.4" font-family="'Liberation Serif', 'Times New Roman', serif" font-size="50" fill="#000">φ<tspan font-size="40" dy="23.7">max</tspan><tspan dy="-23.7">=20°</tspan></text><path d="M1955.2 358.7m-13.4 0h26.8m-13.4 -13.4v26.8m0 -13.4m-9.5 -9.5l19 19m0 -19l-19 19m9.5 -9.5" fill="none" stroke="#7E2F8E" stroke-width="2.1"/><text x="2033" y="365.4" font-family="'Liberation Serif', 'Times New Roman', serif" font-size="50" fill="#000">φ<tspan font-size="40" dy="23.7">max</tspan><tspan dy="-23.7">=30°</tspan></text><path d="M1955.2 438.7m-9.3 -9.3l18.6 18.6m0 -18.6l-18.6 18.6m9.3 -9.3" fill="none" stroke="#77AC30" stroke-width="2.1"/><text x="2033" y="445.4" font-family="'Liberation Serif', 'Times New Roman', serif" font-size="50" fill="#000">φ<tspan font-size="40" dy="23.7">max</tspan><tspan dy="-23.7">=40°</tspan></text><path d="M1955.2 518.7m-13.4 0h26.8m-13.4 -13.4v26.8m0 -13.4m-9.5 -9.5l19 19m0 -19l-19 19m9.5 -9.5" fill="none" stroke="#4DBEEE" stroke-width="2.1"/><text x="2033" y="525.4" font-family="'Liberation Serif', 'Times New Roman', serif" font-size="50" fill="#000">φ<tspan font-size="40" dy="23.7">max</tspan><tspan dy="-23.7">=50°</tspan></text>
<path d="M233.4 1026.6V1740.3M437.91 1026.6V1740.3M642.42 1026.6V1740.3M846.93 1026.6V1740.3M1051.44 1026.6V1740.3M1255.95 1026.6V1740.3M1460.46 1026.6V1740.3M1664.97 1026.6V1740.3M1869.48 1026.6V1740.3M2073.99 1026.6V1740.3M2278.5 1026.6V1740.3M233.4 1740.3H2278.5M233.4 1570.37H2278.5M233.4 1400.44H2278.5M233.4 1230.51H2278.5M233.4 1060.59H2278.5" fill="none" stroke="#d0d0d0" stroke-width="1.7" stroke-dasharray="2.5 1.5"/>
<path d="M233.4 1740.3v-21M233.4 1026.6v21M437.91 1740.3v-21M437.91 1026.6v21M642.42 1740.3v-21M642.42 1026.6v21M846.93 1740.3v-21M846.93 1026.6v21M1051.44 1740.3v-21M1051.44 1026.6v21M1255.95 1740.3v-21M1255.95 1026.6v21M1460.46 1740.3v-21M1460.46 1026.6v21M1664.97 1740.3v-21M1664.97 1026.6v21M1869.48 1740.3v-21M1869.48 1026.6v21M2073.99 1740.3v-21M2073.99 1026.6v21M2278.5 1740.3v-21M2278.5 1026.6v21M233.4 1740.3h21M2278.5 1740.3h-21M233.4 1570.37h21M2278.5 1570.37h-21M233.4 1400.44h21M2278.5 1400.44h-21M233.4 1230.51h21M2278.5 1230.51h-21M233.4 1060.59h21M2278.5 1060.59h-21" fill="none" stroke="#262626" stroke-width="2.5"/>
<rect x="233.4" y="1026.6" width="2045.1" height="713.7" fill="none" stroke="#262626" stroke-width="2.5"/>
<circle cx="233.4" cy="1707.3" r="18.4" fill="none" stroke="#0072BD" stroke-width="8.7"/>
<path d="M642.42 1595.69m-18.4 0h36.8m-18.4 -18.4v36.8m0 -18.4" fill="none" stroke="#D95319" stroke-width="8.7"/>
<path d="M1051.44 1465.02m-13 -13l26 26m0 -26l-26 26m13 -13" fill="none" stroke="#EDB120" stroke-width="8.7"/>
<path d="M1460.46 1348.78m-18.4 0h36.8m-18.4 -18.4v36.8m0 -18.4m-13 -13l26 26m0 -26l-26 26m13 -13" fill="none" stroke="#7E2F8E" stroke-width="8.7"/>
<path d="M1869.48 1163.22m-13 -13l26 26m0 -26l-26 26m13 -13" fill="none" stroke="#77AC30" stroke-width="8.7"/>
<path d="M2278.5 1075.2m-18.4 0h36.8m-18.4 -18.4v36.8m0 -18.4m-13 -13l26 26m0 -26l-26 26m13 -13" fill="none" stroke="#4DBEEE" stroke-width="8.7"/>
<path d="M233.4 1707.3L642.42 1595.69L1051.44 1465.02L1460.46 1348.78L1869.48 1163.22L2278.5 1075.2" fill="none" stroke="#A2142F" stroke-width="3.5" stroke-dasharray="14.0 13.23"/>
<g font-family="'Liberation Serif', 'Times New Roman', serif" font-size="56" fill="#262626"><text x="233.4" y="1812.3" text-anchor="middle">0</text><text x="437.91" y="1812.3" text-anchor="middle">5</text><text x="642.42" y="1812.3" text-anchor="middle">10</text><text x="846.93" y="1812.3" text-anchor="middle">15</text><text x="1051.44" y="1812.3" text-anchor="middle">20</text><text x="1255.95" y="1812.3" text-anchor="middle">25</text><text x="1460.46" y="1812.3" text-anchor="middle">30</text><text x="1664.97" y="1812.3" text-anchor="middle">35</text><text x="1869.48" y="1812.3" text-anchor="middle">40</text><text x="2073.99" y="1812.3" text-anchor="middle">45</text><text x="2278.5" y="1812.3" text-anchor="middle">50</text><text x="213.6" y="1759.55" text-anchor="end">0</text><text x="213.6" y="1589.62" text-anchor="end">500</text><text x="213.6" y="1419.69" text-anchor="end">1000</text><text x="213.6" y="1249.76" text-anchor="end">1500</text><text x="213.6" y="1079.84" text-anchor="end">2000</text></g>
<text x="1162.3" y="1883.2" font-family="'Liberation Serif', 'Times New Roman', serif" font-size="60" fill="#262626">φ<tspan font-size="48.7" dx="1.5" dy="29.1">max</tspan><tspan dx="1.7" dy="-29.1">(°)</tspan></text>
<text transform="translate(78.5 1383.6) rotate(-90)" font-family="'Liberation Serif', 'Times New Roman', serif" font-size="60" fill="#262626" text-anchor="middle">Root Mean Squared Error(Hz)</text>
<rect x="1873.3" y="1062.9" width="369.6" height="491.6" fill="#fff" stroke="#262626" stroke-width="1.8"/><circle cx="1955.2" cy="1108.8" r="18.4" fill="none" stroke="#0072BD" stroke-width="8.7"/><text x="2033" y="1115.5" font-family="'Liberation Serif', 'Times New Roman', serif" font-size="50" fill="#000">φ<tspan font-size="40" dy="23.7">max</tspan><tspan dy="-23.7">=0°</tspan></text><path d="M1955.2 1188.8m-18.4 0h36.8m-18.4 -18.4v36.8m0 -18.4" fill="none" stroke="#D95319" stroke-width="8.7"/><text x="2033" y="1195.5" font-family="'Liberation Serif', 'Times New Roman', serif" font-size="50" fill="#000">φ<tspan font-size="40" dy="23.7">max</tspan><tspan dy="-23.7">=10°</tspan></text><path d="M1955.2 1268.8m-13 -13l26 26m0 -26l-26 26m13 -13" fill="none" stroke="#EDB120" stroke-width="8.7"/><text x="2033" y="1275.5" font-family="'Liberation Serif', 'Times New Roman', serif" font-size="50" fill="#000">φ<tspan font-size="40" dy="23.7">max</tspan><tspan dy="-23.7">=20°</tspan></text><path d="M1955.2 1348.8m-18.4 0h36.8m-18.4 -18.4v36.8m0 -18.4m-13 -13l26 26m0 -26l-26 26m13 -13" fill="none" stroke="#7E2F8E" stroke-width="8.7"/><text x="2033" y="1355.5" font-family="'Liberation Serif', 'Times New Roman', serif" font-size="50" fill="#000">φ<tspan font-size="40" dy="23.7">max</tspan><tspan dy="-23.7">=30°</tspan></text><path d="M1955.2 1428.8m-13 -13l26 26m0 -26l-26 26m13 -13" fill="none" stroke="#77AC30" stroke-width="8.7"/><text x="2033" y="1435.5" font-family="'Liberation Serif', 'Times New Roman', serif" font-size="50" fill="#000">φ<tspan font-size="40" dy="23.7">max</tspan><tspan dy="-23.7">=40°</tspan></text><path d="M1955.2 1508.8m-18.4 0h36.8m-18.4 -18.4v36.8m0 -18.4m-13 -13l26 26m0 -26l-26 26m13 -13" fill="none" stroke="#4DBEEE" stroke-width="8.7"/><text x="2033" y="1515.5" font-family="'Liberation Serif', 'Times New Roman', serif" font-size="50" fill="#000">φ<tspan font-size="40" dy="23.7">max</tspan><tspan dy="-23.7">=50°</tspan></text>
</svg></body></html>
